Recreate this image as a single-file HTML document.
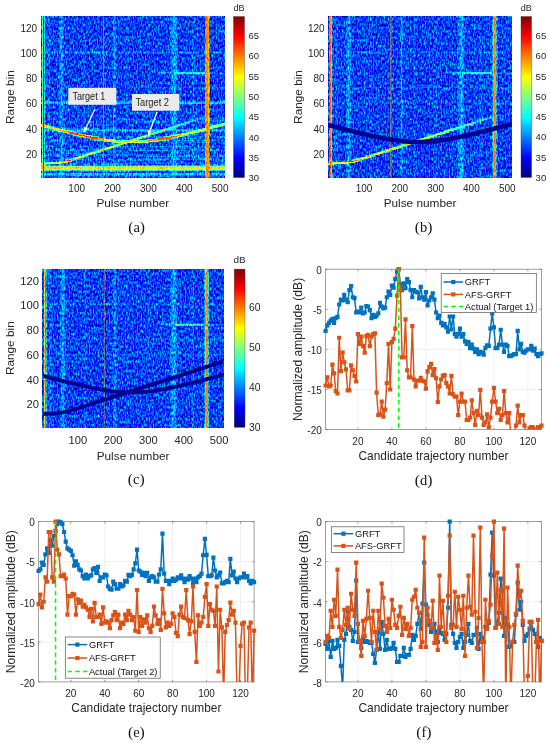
<!DOCTYPE html>
<html><head><meta charset="utf-8"><title>Figure</title>
<style>html,body{margin:0;padding:0;background:#fff}body{width:550px;height:743px;overflow:hidden}svg{display:block}.tk{font-family:"Liberation Sans", Arial, Helvetica, sans-serif;font-size:10px;fill:#262626}.lb{font-family:"Liberation Sans", Arial, Helvetica, sans-serif;font-size:11.9px;fill:#262626}.cb{font-family:"Liberation Sans", Arial, Helvetica, sans-serif;font-size:9.5px;fill:#262626}.lg{font-family:"Liberation Sans", Arial, Helvetica, sans-serif;font-size:9.35px;fill:#111}.cap{font-family:"Liberation Serif", "Times New Roman", serif;font-size:14.5px;fill:#111}.lb.hl{font-size:11.8px}.tk.t3{font-size:11.2px}.cb.c3{font-size:10.3px}.cb.c3.db{font-size:9.9px}.lb.yl{font-size:12.1px}.pr{font-size:15.6px}.cb.db{font-size:9px}</style></head><body>
<svg width="550" height="743" viewBox="0 0 550 743">
<defs><linearGradient id="jet" x1="0" y1="1" x2="0" y2="0"><stop offset="0" stop-color="#000080"/><stop offset="0.125" stop-color="#0000ff"/><stop offset="0.375" stop-color="#00ffff"/><stop offset="0.625" stop-color="#ffff00"/><stop offset="0.875" stop-color="#ff0000"/><stop offset="1" stop-color="#800000"/></linearGradient></defs>
<rect width="550" height="743" fill="#fff"/>
<filter id="hf1" filterUnits="userSpaceOnUse" x="41" y="16.5" width="183.6" height="161.1" color-interpolation-filters="sRGB">
<feTurbulence type="fractalNoise" baseFrequency="0.75 0.33" numOctaves="2" seed="10" result="n"/>
<feColorMatrix in="n" type="matrix" values="0.58 0 0 0 -0.112  0.58 0 0 0 -0.112  0.58 0 0 0 -0.112  0 0 0 0 1" result="ng"/>
<feGaussianBlur in="SourceGraphic" stdDeviation="0.55" result="sb"/>
<feComposite in="sb" in2="ng" operator="arithmetic" k1="-0.8" k2="1" k3="1" k4="0" result="s"/>
<feComponentTransfer in="s" result="cm">
<feFuncR type="table" tableValues="0 0 0 0 0.5 1 1 1 0.5"/><feFuncG type="table" tableValues="0 0 0.5 1 1 1 0.5 0 0"/><feFuncB type="table" tableValues="0.5 1 1 1 0.5 0 0 0 0"/>
</feComponentTransfer><feGaussianBlur in="cm" stdDeviation="0.4 0.45"/></filter>
<g filter="url(#hf1)">
<rect x="38" y="13.5" width="189.6" height="167.1" fill="#000"/>
<rect x="202.56" y="115.51" width="7.14" height="2.1" rx="1" fill="#050505"/>
<rect x="147.4" y="14.5" width="2" height="165.1" fill="#080808"/>
<rect x="125.88" y="14.5" width="2" height="165.1" fill="#0a0a0a"/>
<rect x="82.85" y="14.5" width="2" height="165.1" fill="#0a0a0a"/>
<rect x="39.03" y="112.13" width="187.54" height="1.3" fill="#0a0a0a"/>
<rect x="198.62" y="116.77" width="7.14" height="2.1" rx="1" fill="#0b0b0b"/>
<rect x="203.76" y="115.86" width="4.74" height="1.4" rx="0.7" fill="#0d0d0d"/>
<rect x="191.97" y="14.5" width="2.5" height="165.1" fill="#0d0d0d"/>
<rect x="47.21" y="14.5" width="3" height="165.1" fill="#0d0d0d"/>
<rect x="39.03" y="86.86" width="187.54" height="1.5" fill="#0d0d0d"/>
<rect x="39.03" y="120.94" width="187.54" height="1.3" fill="#0d0d0d"/>
<rect x="41" y="135.39" width="55.7" height="1.2" fill="#0d0d0d"/>
<rect x="132.28" y="154.77" width="14.77" height="1.2" fill="#0e0e0e"/>
<rect x="208.76" y="136.28" width="15.84" height="1.2" fill="#0e0e0e"/>
<rect x="145.16" y="121.72" width="56.34" height="1.2" fill="#0f0f0f"/>
<rect x="55.67" y="131.89" width="51.5" height="1.2" fill="#0f0f0f"/>
<rect x="39.03" y="146.11" width="187.54" height="1.3" fill="#0f0f0f"/>
<rect x="39.03" y="136.05" width="187.54" height="1.3" fill="#0f0f0f"/>
<rect x="58.93" y="157.6" width="17.99" height="1.2" fill="#0f0f0f"/>
<rect x="81.12" y="124.56" width="31.18" height="1.2" fill="#101010"/>
<rect x="124.05" y="119.24" width="33.27" height="1.2" fill="#111111"/>
<rect x="194.85" y="118.03" width="6.97" height="2.1" rx="1" fill="#111111"/>
<rect x="205.06" y="72.51" width="19.36" height="1.5" fill="#121212"/>
<rect x="39.03" y="162.48" width="187.54" height="1.3" fill="#121212"/>
<rect x="39.03" y="154.3" width="187.54" height="1.3" fill="#121212"/>
<rect x="159.89" y="147.79" width="36.68" height="1.2" fill="#121212"/>
<rect x="150.46" y="175.55" width="30.1" height="1.2" fill="#121212"/>
<rect x="195.5" y="156.27" width="29.1" height="1.2" fill="#121212"/>
<rect x="141.14" y="120.78" width="37.62" height="1.2" fill="#131313"/>
<rect x="198.76" y="122.5" width="25.84" height="1.2" fill="#131313"/>
<rect x="177.59" y="141.73" width="35.59" height="1.2" fill="#141414"/>
<rect x="58.96" y="14.5" width="4.6" height="165.1" fill="#141414"/>
<rect x="112.83" y="14.5" width="3" height="165.1" fill="#141414"/>
<rect x="170.61" y="14.5" width="6.5" height="165.1" fill="#141414"/>
<rect x="39.03" y="51.47" width="187.54" height="1.8" fill="#141414"/>
<rect x="39.03" y="139.82" width="187.54" height="1.3" fill="#141414"/>
<rect x="170.59" y="139.64" width="19.31" height="1.2" fill="#151515"/>
<rect x="180.96" y="167.19" width="28.09" height="1.2" fill="#151515"/>
<rect x="182.34" y="118.52" width="42.26" height="1.2" fill="#151515"/>
<rect x="190.91" y="119.28" width="7.14" height="2.1" rx="1" fill="#151515"/>
<rect x="195.15" y="133.37" width="15.7" height="1.2" fill="#151515"/>
<rect x="179.48" y="166.23" width="45.12" height="1.2" fill="#151515"/>
<rect x="114.4" y="128.87" width="29.07" height="1.2" fill="#151515"/>
<rect x="194.01" y="172.55" width="15.87" height="1.2" fill="#161616"/>
<rect x="201.41" y="119.84" width="23.19" height="1.2" fill="#161616"/>
<rect x="39.03" y="158.7" width="187.54" height="1.3" fill="#171717"/>
<rect x="39.03" y="149.89" width="187.54" height="1.3" fill="#171717"/>
<rect x="71.57" y="148.88" width="39.69" height="1.2" fill="#171717"/>
<rect x="199.4" y="158.91" width="25.2" height="1.2" fill="#171717"/>
<rect x="41" y="167.4" width="25.78" height="1.2" fill="#181818"/>
<rect x="126.51" y="175.08" width="26.03" height="1.2" fill="#191919"/>
<rect x="202.31" y="159.17" width="22.29" height="1.2" fill="#191919"/>
<rect x="186.96" y="120.54" width="7.14" height="2.1" rx="1" fill="#191919"/>
<rect x="180.63" y="155.7" width="43.97" height="1.2" fill="#191919"/>
<rect x="115.3" y="159.66" width="50.23" height="1.2" fill="#191919"/>
<rect x="170.23" y="155.05" width="50.47" height="1.2" fill="#191919"/>
<rect x="165.4" y="137.72" width="31.29" height="1.2" fill="#191919"/>
<rect x="168.32" y="145.69" width="19.38" height="1.2" fill="#1a1a1a"/>
<rect x="201.16" y="165.38" width="23.44" height="1.2" fill="#1a1a1a"/>
<rect x="180.99" y="132.8" width="15.19" height="1.2" fill="#1b1b1b"/>
<rect x="175.83" y="149.23" width="44.53" height="1.2" fill="#1b1b1b"/>
<rect x="144.27" y="155.82" width="48.74" height="1.2" fill="#1c1c1c"/>
<rect x="113.63" y="14.5" width="1.4" height="165.1" fill="#1c1c1c"/>
<rect x="199.82" y="117.12" width="4.74" height="1.4" rx="0.7" fill="#1c1c1c"/>
<rect x="76.28" y="170.64" width="50.8" height="1.2" fill="#1c1c1c"/>
<rect x="49.65" y="140.38" width="14.43" height="1.2" fill="#1c1c1c"/>
<rect x="65.88" y="163.75" width="60.14" height="1.2" fill="#1c1c1c"/>
<rect x="183.02" y="121.8" width="7.14" height="2.1" rx="1" fill="#1d1d1d"/>
<rect x="66.11" y="174.99" width="27.37" height="1.2" fill="#1d1d1d"/>
<rect x="88.79" y="170.52" width="42.82" height="1.2" fill="#1d1d1d"/>
<rect x="162.14" y="140.07" width="51.41" height="1.2" fill="#1e1e1e"/>
<rect x="183.7" y="130.09" width="16.05" height="1.2" fill="#1e1e1e"/>
<rect x="50.36" y="127.73" width="48.45" height="1.2" fill="#1e1e1e"/>
<rect x="198.57" y="164.01" width="26.03" height="1.2" fill="#1e1e1e"/>
<rect x="53.27" y="152.62" width="31.92" height="1.2" fill="#1e1e1e"/>
<rect x="60.62" y="14.5" width="2" height="165.1" fill="#1f1f1f"/>
<rect x="179.25" y="123.06" width="6.97" height="2.1" rx="1" fill="#202020"/>
<rect x="172.62" y="14.5" width="3.2" height="165.1" fill="#212121"/>
<rect x="175.31" y="124.32" width="7.14" height="2.1" rx="1" fill="#232323"/>
<rect x="171.36" y="125.58" width="7.14" height="2.1" rx="1" fill="#252525"/>
<rect x="158.44" y="71.68" width="16.85" height="1.9" fill="#262626"/>
<rect x="167.42" y="126.84" width="7.14" height="2.1" rx="1" fill="#282828"/>
<rect x="163.65" y="128.09" width="6.97" height="2.1" rx="1" fill="#2a2a2a"/>
<rect x="196.05" y="118.38" width="4.57" height="1.4" rx="0.7" fill="#2b2b2b"/>
<rect x="39.03" y="101.41" width="187.54" height="2.6" fill="#2b2b2b"/>
<rect x="39.03" y="129.3" width="187.54" height="2.2" fill="#2b2b2b"/>
<rect x="39.03" y="173" width="187.54" height="2.4" fill="#2b2b2b"/>
<rect x="159.71" y="129.35" width="7.14" height="2.1" rx="1" fill="#2c2c2c"/>
<rect x="220.49" y="122.66" width="5.71" height="2.9" rx="1" fill="#2d2d2d"/>
<rect x="155.76" y="130.61" width="7.14" height="2.1" rx="1" fill="#2d2d2d"/>
<rect x="215.83" y="123.92" width="7.86" height="2.9" rx="1" fill="#2e2e2e"/>
<rect x="210.99" y="125.18" width="8.04" height="2.9" rx="1" fill="#2e2e2e"/>
<rect x="151.82" y="131.87" width="7.14" height="2.1" rx="1" fill="#2f2f2f"/>
<rect x="206.33" y="126.44" width="7.86" height="2.9" rx="1" fill="#2f2f2f"/>
<rect x="201.48" y="127.69" width="8.04" height="2.9" rx="1" fill="#303030"/>
<rect x="148.05" y="133.13" width="6.97" height="2.1" rx="1" fill="#303030"/>
<rect x="196.46" y="128.95" width="8.22" height="2.9" rx="1" fill="#313131"/>
<rect x="144.11" y="134.39" width="7.14" height="2.1" rx="1" fill="#323232"/>
<rect x="191.44" y="130.21" width="8.22" height="2.9" rx="1" fill="#323232"/>
<rect x="39.4" y="123.92" width="6.61" height="2.9" rx="1" fill="#323232"/>
<rect x="186.24" y="131.47" width="8.4" height="2.9" rx="1" fill="#333333"/>
<rect x="140.16" y="135.65" width="7.14" height="2.1" rx="1" fill="#333333"/>
<rect x="180.87" y="132.73" width="8.58" height="2.9" rx="1" fill="#333333"/>
<rect x="42.81" y="125.18" width="8.04" height="2.9" rx="1" fill="#343434"/>
<rect x="192.11" y="119.63" width="4.74" height="1.4" rx="0.7" fill="#353535"/>
<rect x="136.22" y="136.9" width="7.14" height="2.1" rx="1" fill="#353535"/>
<rect x="132.46" y="138.16" width="6.97" height="2.1" rx="1" fill="#363636"/>
<rect x="47.65" y="126.44" width="7.86" height="2.9" rx="1" fill="#363636"/>
<rect x="128.51" y="139.42" width="7.14" height="2.1" rx="1" fill="#373737"/>
<rect x="112.19" y="140.28" width="37.45" height="2.9" rx="1" fill="#383838"/>
<rect x="124.57" y="140.68" width="7.14" height="2.1" rx="1" fill="#383838"/>
<rect x="120.62" y="141.94" width="7.14" height="2.1" rx="1" fill="#393939"/>
<rect x="116.86" y="143.2" width="6.97" height="2.1" rx="1" fill="#393939"/>
<rect x="39.4" y="163.33" width="7.86" height="2.1" rx="1" fill="#393939"/>
<rect x="112.91" y="144.46" width="7.14" height="2.1" rx="1" fill="#393939"/>
<rect x="52.31" y="127.69" width="8.04" height="2.9" rx="1" fill="#393939"/>
<rect x="108.97" y="145.71" width="7.14" height="2.1" rx="1" fill="#3a3a3a"/>
<rect x="105.2" y="146.97" width="6.97" height="2.1" rx="1" fill="#3a3a3a"/>
<rect x="101.26" y="148.23" width="7.14" height="2.1" rx="1" fill="#3a3a3a"/>
<rect x="97.31" y="149.49" width="7.14" height="2.1" rx="1" fill="#3a3a3a"/>
<rect x="93.37" y="150.75" width="7.14" height="2.1" rx="1" fill="#3b3b3b"/>
<rect x="102.87" y="139.02" width="12.52" height="2.9" rx="1" fill="#3b3b3b"/>
<rect x="89.6" y="152.01" width="6.97" height="2.1" rx="1" fill="#3b3b3b"/>
<rect x="85.66" y="153.27" width="7.14" height="2.1" rx="1" fill="#3b3b3b"/>
<rect x="81.71" y="154.52" width="7.14" height="2.1" rx="1" fill="#3c3c3c"/>
<rect x="77.77" y="155.78" width="7.14" height="2.1" rx="1" fill="#3c3c3c"/>
<rect x="73.65" y="157.04" width="7.32" height="2.1" rx="1" fill="#3c3c3c"/>
<rect x="44.06" y="162.08" width="18.08" height="2.1" rx="1" fill="#3d3d3d"/>
<rect x="57.15" y="128.95" width="8.22" height="2.9" rx="1" fill="#3e3e3e"/>
<rect x="188.16" y="120.89" width="4.74" height="1.4" rx="0.7" fill="#3f3f3f"/>
<rect x="175.31" y="133.99" width="8.76" height="2.9" rx="1" fill="#3f3f3f"/>
<rect x="69.52" y="158.3" width="7.32" height="2.1" rx="1" fill="#3f3f3f"/>
<rect x="95.7" y="137.76" width="10.37" height="2.9" rx="1" fill="#414141"/>
<rect x="42.93" y="14.5" width="1.8" height="165.1" fill="#424242"/>
<rect x="62.17" y="130.21" width="8.22" height="2.9" rx="1" fill="#444444"/>
<rect x="146.44" y="139.02" width="12.52" height="2.9" rx="1" fill="#454545"/>
<rect x="175.29" y="72.14" width="29.76" height="2" fill="#454545"/>
<rect x="184.22" y="122.15" width="4.74" height="1.4" rx="0.7" fill="#494949"/>
<rect x="155.76" y="137.76" width="10.37" height="2.9" rx="1" fill="#4a4a4a"/>
<rect x="162.94" y="136.5" width="9.65" height="2.9" rx="1" fill="#4a4a4a"/>
<rect x="169.39" y="135.25" width="9.12" height="2.9" rx="1" fill="#4a4a4a"/>
<rect x="67.19" y="131.47" width="8.4" height="2.9" rx="1" fill="#4b4b4b"/>
<rect x="89.24" y="136.5" width="9.65" height="2.9" rx="1" fill="#4c4c4c"/>
<rect x="72.39" y="132.73" width="8.58" height="2.9" rx="1" fill="#4c4c4c"/>
<rect x="77.77" y="133.99" width="8.76" height="2.9" rx="1" fill="#4c4c4c"/>
<rect x="83.33" y="135.25" width="9.12" height="2.9" rx="1" fill="#4c4c4c"/>
<rect x="39.03" y="165.56" width="187.54" height="5.2" fill="#4c4c4c"/>
<rect x="58.94" y="160.82" width="9.12" height="2.1" rx="1" fill="#515151"/>
<rect x="64.86" y="159.56" width="7.86" height="2.1" rx="1" fill="#515151"/>
<rect x="180.45" y="123.41" width="4.57" height="1.4" rx="0.7" fill="#515151"/>
<rect x="205.52" y="14.5" width="3.8" height="165.1" fill="#575757"/>
<rect x="176.51" y="124.67" width="4.74" height="1.4" rx="0.7" fill="#575757"/>
<rect x="172.56" y="125.93" width="4.74" height="1.4" rx="0.7" fill="#5d5d5d"/>
<rect x="168.62" y="127.19" width="4.74" height="1.4" rx="0.7" fill="#636363"/>
<rect x="164.85" y="128.44" width="4.57" height="1.4" rx="0.7" fill="#696969"/>
<rect x="160.91" y="129.7" width="4.74" height="1.4" rx="0.7" fill="#6d6d6d"/>
<rect x="221.69" y="123.01" width="3.31" height="2.2" rx="0.7" fill="#717171"/>
<rect x="156.96" y="130.96" width="4.74" height="1.4" rx="0.7" fill="#717171"/>
<rect x="217.03" y="124.27" width="5.46" height="2.2" rx="0.7" fill="#727272"/>
<rect x="212.19" y="125.53" width="5.64" height="2.2" rx="0.7" fill="#747474"/>
<rect x="153.02" y="132.22" width="4.74" height="1.4" rx="0.7" fill="#757575"/>
<rect x="207.53" y="126.79" width="5.46" height="2.2" rx="0.7" fill="#767676"/>
<rect x="202.68" y="128.04" width="5.64" height="2.2" rx="0.7" fill="#787878"/>
<rect x="149.25" y="133.48" width="4.57" height="1.4" rx="0.7" fill="#787878"/>
<rect x="197.66" y="129.3" width="5.82" height="2.2" rx="0.7" fill="#7a7a7a"/>
<rect x="145.31" y="134.74" width="4.74" height="1.4" rx="0.7" fill="#7c7c7c"/>
<rect x="192.64" y="130.56" width="5.82" height="2.2" rx="0.7" fill="#7c7c7c"/>
<rect x="40.6" y="124.27" width="4.21" height="2.2" rx="0.7" fill="#7e7e7e"/>
<rect x="187.44" y="131.82" width="6" height="2.2" rx="0.7" fill="#7e7e7e"/>
<rect x="141.36" y="136" width="4.74" height="1.4" rx="0.7" fill="#808080"/>
<rect x="182.07" y="133.08" width="6.18" height="2.2" rx="0.7" fill="#818181"/>
<rect x="44.01" y="125.53" width="5.64" height="2.2" rx="0.7" fill="#828282"/>
<rect x="137.42" y="137.25" width="4.74" height="1.4" rx="0.7" fill="#838383"/>
<rect x="133.66" y="138.51" width="4.57" height="1.4" rx="0.7" fill="#878787"/>
<rect x="48.85" y="126.79" width="5.46" height="2.2" rx="0.7" fill="#888888"/>
<rect x="129.71" y="139.77" width="4.74" height="1.4" rx="0.7" fill="#8b8b8b"/>
<rect x="39.03" y="166.66" width="187.54" height="3" fill="#8c8c8c"/>
<rect x="113.39" y="140.63" width="35.05" height="2.2" rx="0.7" fill="#8c8c8c"/>
<rect x="125.77" y="141.03" width="4.74" height="1.4" rx="0.7" fill="#8d8d8d"/>
<rect x="121.82" y="142.29" width="4.74" height="1.4" rx="0.7" fill="#8d8d8d"/>
<rect x="118.06" y="143.55" width="4.57" height="1.4" rx="0.7" fill="#8e8e8e"/>
<rect x="40.6" y="163.68" width="5.46" height="1.4" rx="0.7" fill="#8f8f8f"/>
<rect x="114.11" y="144.81" width="4.74" height="1.4" rx="0.7" fill="#8f8f8f"/>
<rect x="53.51" y="128.04" width="5.64" height="2.2" rx="0.7" fill="#8f8f8f"/>
<rect x="110.17" y="146.06" width="4.74" height="1.4" rx="0.7" fill="#909090"/>
<rect x="106.4" y="147.32" width="4.57" height="1.4" rx="0.7" fill="#919191"/>
<rect x="102.46" y="148.58" width="4.74" height="1.4" rx="0.7" fill="#919191"/>
<rect x="98.51" y="149.84" width="4.74" height="1.4" rx="0.7" fill="#929292"/>
<rect x="94.57" y="151.1" width="4.74" height="1.4" rx="0.7" fill="#939393"/>
<rect x="104.07" y="139.37" width="10.12" height="2.2" rx="0.7" fill="#939393"/>
<rect x="90.8" y="152.36" width="4.57" height="1.4" rx="0.7" fill="#949494"/>
<rect x="86.86" y="153.62" width="4.74" height="1.4" rx="0.7" fill="#949494"/>
<rect x="82.91" y="154.87" width="4.74" height="1.4" rx="0.7" fill="#959595"/>
<rect x="78.97" y="156.13" width="4.74" height="1.4" rx="0.7" fill="#969696"/>
<rect x="74.85" y="157.39" width="4.92" height="1.4" rx="0.7" fill="#979797"/>
<rect x="45.26" y="162.43" width="15.68" height="1.4" rx="0.7" fill="#999999"/>
<rect x="58.35" y="129.3" width="5.82" height="2.2" rx="0.7" fill="#9c9c9c"/>
<rect x="176.51" y="134.34" width="6.36" height="2.2" rx="0.7" fill="#9e9e9e"/>
<rect x="70.72" y="158.65" width="4.92" height="1.4" rx="0.7" fill="#9e9e9e"/>
<rect x="96.9" y="138.11" width="7.97" height="2.2" rx="0.7" fill="#a3a3a3"/>
<rect x="205.94" y="14.5" width="2.9" height="165.1" fill="#a8a8a8"/>
<rect x="63.37" y="130.56" width="5.82" height="2.2" rx="0.7" fill="#aaaaaa"/>
<rect x="147.64" y="139.37" width="10.12" height="2.2" rx="0.7" fill="#acacac"/>
<rect x="156.96" y="138.11" width="7.97" height="2.2" rx="0.7" fill="#b9b9b9"/>
<rect x="164.14" y="136.85" width="7.25" height="2.2" rx="0.7" fill="#b9b9b9"/>
<rect x="170.59" y="135.6" width="6.72" height="2.2" rx="0.7" fill="#b9b9b9"/>
<rect x="68.39" y="131.82" width="6" height="2.2" rx="0.7" fill="#bbbbbb"/>
<rect x="90.44" y="136.85" width="7.25" height="2.2" rx="0.7" fill="#bebebe"/>
<rect x="73.59" y="133.08" width="6.18" height="2.2" rx="0.7" fill="#bfbfbf"/>
<rect x="78.97" y="134.34" width="6.36" height="2.2" rx="0.7" fill="#bfbfbf"/>
<rect x="84.53" y="135.6" width="6.72" height="2.2" rx="0.7" fill="#bfbfbf"/>
<rect x="60.14" y="161.17" width="6.72" height="1.4" rx="0.7" fill="#cacaca"/>
<rect x="66.06" y="159.91" width="5.46" height="1.4" rx="0.7" fill="#cacaca"/>
<rect x="42.63" y="14.5" width="1.4" height="165.1" fill="#dbdbdb"/>
</g>
<line x1="103.57" y1="16.5" x2="103.57" y2="177.6" stroke="#ee8420" stroke-width="1" stroke-opacity="0.9"/>
<clipPath id="cp1"><rect x="41" y="16.5" width="183.6" height="161.1"/></clipPath>
<rect x="68.3" y="87.9" width="48.1" height="16.9" fill="#ebebeb"/>
<text x="72.5" y="100.1" font-family='"Liberation Sans", Arial, Helvetica, sans-serif' font-size="10.4" fill="#1a1a1a" textLength="32.7" lengthAdjust="spacingAndGlyphs">Target 1</text>
<rect x="132" y="94" width="47.4" height="16.7" fill="#ebebeb"/>
<text x="135.4" y="106.3" font-family='"Liberation Sans", Arial, Helvetica, sans-serif' font-size="10.4" fill="#1a1a1a" textLength="33.6" lengthAdjust="spacingAndGlyphs">Target 2</text>
<line x1="95" y1="109" x2="85.88" y2="128.04" stroke="#fff" stroke-width="1.3"/>
<polygon points="83.5,133 83.89,127.09 87.86,128.99" fill="#fff"/>
<line x1="157" y1="112" x2="149.93" y2="130.85" stroke="#fff" stroke-width="1.3"/>
<polygon points="148,136 147.87,130.08 151.99,131.62" fill="#fff"/>
<text x="76.68" y="191.9" text-anchor="middle" class="tk">100</text>
<text x="112.54" y="191.9" text-anchor="middle" class="tk">200</text>
<text x="148.4" y="191.9" text-anchor="middle" class="tk">300</text>
<text x="184.26" y="191.9" text-anchor="middle" class="tk">400</text>
<text x="220.12" y="191.9" text-anchor="middle" class="tk">500</text>
<text x="37.2" y="157.76" text-anchor="end" class="tk">20</text>
<text x="37.2" y="132.59" text-anchor="end" class="tk">40</text>
<text x="37.2" y="107.41" text-anchor="end" class="tk">60</text>
<text x="37.2" y="82.24" text-anchor="end" class="tk">80</text>
<text x="37.2" y="57.07" text-anchor="end" class="tk">100</text>
<text x="37.2" y="31.9" text-anchor="end" class="tk">120</text>
<text x="132.8" y="207.3" text-anchor="middle" class="lb hl">Pulse number</text>
<text transform="translate(13.8,97.05) rotate(-90)" text-anchor="middle" class="lb hl">Range bin</text>
<rect x="233.5" y="16.5" width="11" height="161.1" fill="url(#jet)" stroke="#444" stroke-width="0.4"/>
<text x="248.5" y="181.1" class="cb">30</text>
<text x="248.5" y="160.81" class="cb">35</text>
<text x="248.5" y="140.52" class="cb">40</text>
<text x="248.5" y="120.23" class="cb">45</text>
<text x="248.5" y="99.94" class="cb">50</text>
<text x="248.5" y="79.65" class="cb">55</text>
<text x="248.5" y="59.36" class="cb">60</text>
<text x="248.5" y="39.07" class="cb">65</text>
<text x="239" y="10.8" text-anchor="middle" class="cb db">dB</text>
<text x="136.6" y="232.3" text-anchor="middle" class="cap"><tspan class="pr">(</tspan>a<tspan class="pr">)</tspan></text>
<filter id="hf2" filterUnits="userSpaceOnUse" x="328.4" y="16.5" width="183.3" height="161" color-interpolation-filters="sRGB">
<feTurbulence type="fractalNoise" baseFrequency="0.75 0.33" numOctaves="2" seed="17" result="n"/>
<feColorMatrix in="n" type="matrix" values="0.58 0 0 0 -0.112  0.58 0 0 0 -0.112  0.58 0 0 0 -0.112  0 0 0 0 1" result="ng"/>
<feGaussianBlur in="SourceGraphic" stdDeviation="0.55" result="sb"/>
<feComposite in="sb" in2="ng" operator="arithmetic" k1="-0.8" k2="1" k3="1" k4="0" result="s"/>
<feComponentTransfer in="s" result="cm">
<feFuncR type="table" tableValues="0 0 0 0 0.5 1 1 1 0.5"/><feFuncG type="table" tableValues="0 0 0.5 1 1 1 0.5 0 0"/><feFuncB type="table" tableValues="0.5 1 1 1 0.5 0 0 0 0"/>
</feComponentTransfer><feGaussianBlur in="cm" stdDeviation="0.4 0.45"/></filter>
<g filter="url(#hf2)">
<rect x="325.4" y="13.5" width="189.3" height="167" fill="#000"/>
<rect x="493.63" y="114.09" width="6.96" height="2.3" rx="1" fill="#050505"/>
<rect x="434.62" y="14.5" width="2" height="165" fill="#080808"/>
<rect x="413.14" y="14.5" width="2" height="165" fill="#0a0a0a"/>
<rect x="370.18" y="14.5" width="2" height="165" fill="#0a0a0a"/>
<rect x="326.43" y="101.36" width="187.24" height="2.6" fill="#0a0a0a"/>
<rect x="489.69" y="115.35" width="7.14" height="2.3" rx="1" fill="#0b0b0b"/>
<rect x="494.83" y="114.44" width="4.56" height="1.6" rx="0.7" fill="#0c0c0c"/>
<rect x="479.12" y="14.5" width="2.5" height="165" fill="#0d0d0d"/>
<rect x="334.6" y="14.5" width="3" height="165" fill="#0d0d0d"/>
<rect x="326.43" y="51.45" width="187.24" height="1.8" fill="#0d0d0d"/>
<rect x="326.43" y="86.82" width="187.24" height="1.5" fill="#0d0d0d"/>
<rect x="492.19" y="72.48" width="19.33" height="1.5" fill="#121212"/>
<rect x="485.76" y="116.6" width="7.14" height="2.3" rx="1" fill="#121212"/>
<rect x="346.33" y="14.5" width="4.6" height="165" fill="#141414"/>
<rect x="400.11" y="14.5" width="3" height="165" fill="#141414"/>
<rect x="457.79" y="14.5" width="6.5" height="165" fill="#141414"/>
<rect x="482" y="117.86" width="6.96" height="2.3" rx="1" fill="#151515"/>
<rect x="478.06" y="119.12" width="7.14" height="2.3" rx="1" fill="#181818"/>
<rect x="474.12" y="120.38" width="7.14" height="2.3" rx="1" fill="#1b1b1b"/>
<rect x="400.91" y="14.5" width="1.4" height="165" fill="#1c1c1c"/>
<rect x="490.89" y="115.7" width="4.74" height="1.6" rx="0.7" fill="#1c1c1c"/>
<rect x="470.18" y="121.64" width="7.14" height="2.3" rx="1" fill="#1e1e1e"/>
<rect x="347.99" y="14.5" width="2" height="165" fill="#1f1f1f"/>
<rect x="466.42" y="122.89" width="6.96" height="2.3" rx="1" fill="#202020"/>
<rect x="459.8" y="14.5" width="3.2" height="165" fill="#212121"/>
<rect x="462.48" y="124.15" width="7.14" height="2.3" rx="1" fill="#232323"/>
<rect x="458.55" y="125.41" width="7.14" height="2.3" rx="1" fill="#252525"/>
<rect x="445.65" y="71.65" width="16.83" height="1.9" fill="#262626"/>
<rect x="454.61" y="126.67" width="7.14" height="2.3" rx="1" fill="#282828"/>
<rect x="450.85" y="127.92" width="6.96" height="2.3" rx="1" fill="#2a2a2a"/>
<rect x="446.91" y="129.18" width="7.14" height="2.3" rx="1" fill="#2d2d2d"/>
<rect x="486.96" y="116.95" width="4.74" height="1.6" rx="0.7" fill="#2d2d2d"/>
<rect x="442.97" y="130.44" width="7.14" height="2.3" rx="1" fill="#2f2f2f"/>
<rect x="439.04" y="131.7" width="7.14" height="2.3" rx="1" fill="#303030"/>
<rect x="435.28" y="132.96" width="6.96" height="2.3" rx="1" fill="#313131"/>
<rect x="431.34" y="134.21" width="7.14" height="2.3" rx="1" fill="#323232"/>
<rect x="427.4" y="135.47" width="7.14" height="2.3" rx="1" fill="#333333"/>
<rect x="423.46" y="136.73" width="7.14" height="2.3" rx="1" fill="#343434"/>
<rect x="483.2" y="118.21" width="4.56" height="1.6" rx="0.7" fill="#343434"/>
<rect x="419.7" y="137.99" width="6.96" height="2.3" rx="1" fill="#353535"/>
<rect x="415.76" y="139.24" width="7.14" height="2.3" rx="1" fill="#353535"/>
<rect x="411.83" y="140.5" width="7.14" height="2.3" rx="1" fill="#363636"/>
<rect x="407.89" y="141.76" width="7.14" height="2.3" rx="1" fill="#373737"/>
<rect x="404.13" y="143.02" width="6.96" height="2.3" rx="1" fill="#373737"/>
<rect x="400.19" y="144.28" width="7.14" height="2.3" rx="1" fill="#383838"/>
<rect x="396.25" y="145.53" width="7.14" height="2.3" rx="1" fill="#383838"/>
<rect x="392.49" y="146.79" width="6.96" height="2.3" rx="1" fill="#393939"/>
<rect x="388.56" y="148.05" width="7.14" height="2.3" rx="1" fill="#393939"/>
<rect x="384.62" y="149.31" width="7.14" height="2.3" rx="1" fill="#3a3a3a"/>
<rect x="380.68" y="150.56" width="7.14" height="2.3" rx="1" fill="#3a3a3a"/>
<rect x="376.92" y="151.82" width="6.96" height="2.3" rx="1" fill="#3b3b3b"/>
<rect x="326.8" y="163.14" width="7.85" height="2.3" rx="1" fill="#3b3b3b"/>
<rect x="372.98" y="153.08" width="7.14" height="2.3" rx="1" fill="#3b3b3b"/>
<rect x="479.26" y="119.47" width="4.74" height="1.6" rx="0.7" fill="#3b3b3b"/>
<rect x="369.04" y="154.34" width="7.14" height="2.3" rx="1" fill="#3c3c3c"/>
<rect x="365.11" y="155.6" width="7.14" height="2.3" rx="1" fill="#3c3c3c"/>
<rect x="360.99" y="156.85" width="7.32" height="2.3" rx="1" fill="#3d3d3d"/>
<rect x="356.87" y="158.11" width="7.32" height="2.3" rx="1" fill="#3d3d3d"/>
<rect x="331.45" y="161.89" width="18.06" height="2.3" rx="1" fill="#3e3e3e"/>
<rect x="329.61" y="14.5" width="2.6" height="165" fill="#424242"/>
<rect x="475.32" y="120.73" width="4.74" height="1.6" rx="0.7" fill="#434343"/>
<rect x="462.47" y="72.1" width="29.71" height="2" fill="#454545"/>
<rect x="352.22" y="159.37" width="7.85" height="2.3" rx="1" fill="#464646"/>
<rect x="471.38" y="121.99" width="4.74" height="1.6" rx="0.7" fill="#4a4a4a"/>
<rect x="346.31" y="160.63" width="9.11" height="2.3" rx="1" fill="#4f4f4f"/>
<rect x="467.62" y="123.24" width="4.56" height="1.6" rx="0.7" fill="#515151"/>
<rect x="492.65" y="14.5" width="3.8" height="165" fill="#575757"/>
<rect x="463.68" y="124.5" width="4.74" height="1.6" rx="0.7" fill="#575757"/>
<rect x="459.75" y="125.76" width="4.74" height="1.6" rx="0.7" fill="#5d5d5d"/>
<rect x="455.81" y="127.02" width="4.74" height="1.6" rx="0.7" fill="#636363"/>
<rect x="452.05" y="128.27" width="4.56" height="1.6" rx="0.7" fill="#696969"/>
<rect x="448.11" y="129.53" width="4.74" height="1.6" rx="0.7" fill="#6f6f6f"/>
<rect x="444.17" y="130.79" width="4.74" height="1.6" rx="0.7" fill="#767676"/>
<rect x="440.24" y="132.05" width="4.74" height="1.6" rx="0.7" fill="#787878"/>
<rect x="436.48" y="133.31" width="4.56" height="1.6" rx="0.7" fill="#7a7a7a"/>
<rect x="432.54" y="134.56" width="4.74" height="1.6" rx="0.7" fill="#7d7d7d"/>
<rect x="428.6" y="135.82" width="4.74" height="1.6" rx="0.7" fill="#7f7f7f"/>
<rect x="424.66" y="137.08" width="4.74" height="1.6" rx="0.7" fill="#818181"/>
<rect x="420.9" y="138.34" width="4.56" height="1.6" rx="0.7" fill="#838383"/>
<rect x="416.96" y="139.59" width="4.74" height="1.6" rx="0.7" fill="#868686"/>
<rect x="413.03" y="140.85" width="4.74" height="1.6" rx="0.7" fill="#878787"/>
<rect x="409.09" y="142.11" width="4.74" height="1.6" rx="0.7" fill="#898989"/>
<rect x="405.33" y="143.37" width="4.56" height="1.6" rx="0.7" fill="#8a8a8a"/>
<rect x="401.39" y="144.63" width="4.74" height="1.6" rx="0.7" fill="#8b8b8b"/>
<rect x="397.45" y="145.88" width="4.74" height="1.6" rx="0.7" fill="#8d8d8d"/>
<rect x="393.69" y="147.14" width="4.56" height="1.6" rx="0.7" fill="#8e8e8e"/>
<rect x="389.76" y="148.4" width="4.74" height="1.6" rx="0.7" fill="#8f8f8f"/>
<rect x="385.82" y="149.66" width="4.74" height="1.6" rx="0.7" fill="#909090"/>
<rect x="381.88" y="150.91" width="4.74" height="1.6" rx="0.7" fill="#929292"/>
<rect x="378.12" y="152.17" width="4.56" height="1.6" rx="0.7" fill="#939393"/>
<rect x="328" y="163.49" width="5.45" height="1.6" rx="0.7" fill="#949494"/>
<rect x="374.18" y="153.43" width="4.74" height="1.6" rx="0.7" fill="#949494"/>
<rect x="370.24" y="154.69" width="4.74" height="1.6" rx="0.7" fill="#969696"/>
<rect x="366.31" y="155.95" width="4.74" height="1.6" rx="0.7" fill="#979797"/>
<rect x="362.19" y="157.2" width="4.92" height="1.6" rx="0.7" fill="#989898"/>
<rect x="358.07" y="158.46" width="4.92" height="1.6" rx="0.7" fill="#9a9a9a"/>
<rect x="332.65" y="162.24" width="15.66" height="1.6" rx="0.7" fill="#9b9b9b"/>
<rect x="493.07" y="14.5" width="2.9" height="165" fill="#a8a8a8"/>
<rect x="353.42" y="159.72" width="5.45" height="1.6" rx="0.7" fill="#aeaeae"/>
<rect x="330.01" y="14.5" width="1.8" height="165" fill="#b2b2b2"/>
<rect x="347.51" y="160.98" width="6.71" height="1.6" rx="0.7" fill="#c4c4c4"/>
</g>
<line x1="390.87" y1="16.5" x2="390.87" y2="177.5" stroke="#ee8420" stroke-width="1" stroke-opacity="0.9"/>
<clipPath id="cp2"><rect x="328.4" y="16.5" width="183.3" height="161"/></clipPath>
<polyline points="326.79,124.58 328.94,125.16 331.09,125.74 333.23,126.32 335.38,126.89 337.53,127.46 339.68,128.03 341.83,128.59 343.97,129.15 346.12,129.71 348.27,130.26 350.42,130.81 352.57,131.35 354.71,131.89 356.86,132.42 359.01,132.94 361.16,133.46 363.31,133.97 365.45,134.48 367.6,134.97 369.75,135.46 371.9,135.94 374.05,136.41 376.19,136.87 378.34,137.31 380.49,137.75 382.64,138.17 384.79,138.57 386.93,138.96 389.08,139.34 391.23,139.69 393.38,140.03 395.53,140.34 397.67,140.63 399.82,140.9 401.97,141.14 404.12,141.36 406.27,141.54 408.41,141.7 410.56,141.83 412.71,141.93 414.86,141.99 417.01,142.03 419.15,142.03 421.3,141.99 423.45,141.93 425.6,141.83 427.75,141.7 429.9,141.54 432.04,141.36 434.19,141.14 436.34,140.9 438.49,140.63 440.64,140.34 442.78,140.03 444.93,139.69 447.08,139.34 449.23,138.96 451.38,138.57 453.52,138.17 455.67,137.75 457.82,137.31 459.97,136.87 462.12,136.41 464.26,135.94 466.41,135.46 468.56,134.97 470.71,134.48 472.86,133.97 475,133.46 477.15,132.94 479.3,132.42 481.45,131.89 483.6,131.35 485.74,130.81 487.89,130.26 490.04,129.71 492.19,129.15 494.34,128.59 496.48,128.03 498.63,127.46 500.78,126.89 502.93,126.32 505.08,125.74 507.22,125.16 509.37,124.58 511.52,124 513.67,123.41" fill="none" stroke="#00008e" stroke-width="4.6" clip-path="url(#cp2)"/>
<text x="364.02" y="191.9" text-anchor="middle" class="tk">100</text>
<text x="399.82" y="191.9" text-anchor="middle" class="tk">200</text>
<text x="435.62" y="191.9" text-anchor="middle" class="tk">300</text>
<text x="471.42" y="191.9" text-anchor="middle" class="tk">400</text>
<text x="507.22" y="191.9" text-anchor="middle" class="tk">500</text>
<text x="324.6" y="157.67" text-anchor="end" class="tk">20</text>
<text x="324.6" y="132.52" text-anchor="end" class="tk">40</text>
<text x="324.6" y="107.36" text-anchor="end" class="tk">60</text>
<text x="324.6" y="82.2" text-anchor="end" class="tk">80</text>
<text x="324.6" y="57.05" text-anchor="end" class="tk">100</text>
<text x="324.6" y="31.89" text-anchor="end" class="tk">120</text>
<text x="420.05" y="207.3" text-anchor="middle" class="lb hl">Pulse number</text>
<text transform="translate(302.2,97) rotate(-90)" text-anchor="middle" class="lb hl">Range bin</text>
<rect x="521" y="16.5" width="10.6" height="161" fill="url(#jet)" stroke="#444" stroke-width="0.4"/>
<text x="535.6" y="181" class="cb">30</text>
<text x="535.6" y="160.72" class="cb">35</text>
<text x="535.6" y="140.45" class="cb">40</text>
<text x="535.6" y="120.17" class="cb">45</text>
<text x="535.6" y="99.89" class="cb">50</text>
<text x="535.6" y="79.61" class="cb">55</text>
<text x="535.6" y="59.34" class="cb">60</text>
<text x="535.6" y="39.06" class="cb">65</text>
<text x="526.3" y="10.8" text-anchor="middle" class="cb db">dB</text>
<text x="423.6" y="232.3" text-anchor="middle" class="cap"><tspan class="pr">(</tspan>b<tspan class="pr">)</tspan></text>
<filter id="hf3" filterUnits="userSpaceOnUse" x="42.7" y="269.1" width="180.8" height="158.2" color-interpolation-filters="sRGB">
<feTurbulence type="fractalNoise" baseFrequency="0.75 0.33" numOctaves="2" seed="24" result="n"/>
<feColorMatrix in="n" type="matrix" values="0.58 0 0 0 -0.112  0.58 0 0 0 -0.112  0.58 0 0 0 -0.112  0 0 0 0 1" result="ng"/>
<feGaussianBlur in="SourceGraphic" stdDeviation="0.55" result="sb"/>
<feComposite in="sb" in2="ng" operator="arithmetic" k1="-0.8" k2="1" k3="1" k4="0" result="s"/>
<feComponentTransfer in="s" result="cm">
<feFuncR type="table" tableValues="0 0 0 0 0.5 1 1 1 0.5"/><feFuncG type="table" tableValues="0 0 0.5 1 1 1 0.5 0 0"/><feFuncB type="table" tableValues="0.5 1 1 1 0.5 0 0 0 0"/>
</feComponentTransfer><feGaussianBlur in="cm" stdDeviation="0.4 0.45"/></filter>
<g filter="url(#hf3)">
<rect x="39.7" y="266.1" width="186.8" height="164.2" fill="#000"/>
<rect x="147.46" y="267.1" width="2" height="162.2" fill="#080808"/>
<rect x="126.27" y="267.1" width="2" height="162.2" fill="#0a0a0a"/>
<rect x="83.9" y="267.1" width="2" height="162.2" fill="#0a0a0a"/>
<rect x="40.76" y="352.46" width="184.68" height="2.6" fill="#0a0a0a"/>
<rect x="191.35" y="267.1" width="2.5" height="162.2" fill="#0d0d0d"/>
<rect x="48.79" y="267.1" width="3" height="162.2" fill="#0d0d0d"/>
<rect x="40.76" y="303.42" width="184.68" height="1.8" fill="#0d0d0d"/>
<rect x="40.76" y="338.18" width="184.68" height="1.5" fill="#0d0d0d"/>
<rect x="204.25" y="324.09" width="19.07" height="1.5" fill="#121212"/>
<rect x="60.35" y="267.1" width="4.6" height="162.2" fill="#141414"/>
<rect x="113.41" y="267.1" width="3" height="162.2" fill="#141414"/>
<rect x="170.28" y="267.1" width="6.5" height="162.2" fill="#141414"/>
<rect x="114.21" y="267.1" width="1.4" height="162.2" fill="#1c1c1c"/>
<rect x="62" y="267.1" width="2" height="162.2" fill="#1f1f1f"/>
<rect x="172.29" y="267.1" width="3.2" height="162.2" fill="#212121"/>
<rect x="158.35" y="323.27" width="16.6" height="1.9" fill="#262626"/>
<rect x="43.87" y="267.1" width="2.6" height="162.2" fill="#424242"/>
<rect x="174.95" y="323.72" width="29.31" height="2" fill="#454545"/>
<rect x="204.69" y="267.1" width="3.8" height="162.2" fill="#575757"/>
<rect x="205.1" y="267.1" width="2.9" height="162.2" fill="#a8a8a8"/>
<rect x="44.27" y="267.1" width="1.8" height="162.2" fill="#b2b2b2"/>
</g>
<line x1="104.32" y1="269.1" x2="104.32" y2="427.3" stroke="#ee8420" stroke-width="1" stroke-opacity="0.6"/>
<clipPath id="cp3"><rect x="42.7" y="269.1" width="180.8" height="158.2"/></clipPath>
<polyline points="41.11,375.3 43.23,375.87 45.35,376.44 47.47,377.01 49.59,377.57 51.7,378.13 53.82,378.69 55.94,379.24 58.06,379.79 60.18,380.34 62.3,380.88 64.42,381.42 66.54,381.95 68.65,382.48 70.77,383 72.89,383.52 75.01,384.03 77.13,384.53 79.25,385.03 81.37,385.51 83.49,385.99 85.6,386.46 87.72,386.93 89.84,387.38 91.96,387.81 94.08,388.24 96.2,388.65 98.32,389.05 100.44,389.43 102.55,389.8 104.67,390.15 106.79,390.48 108.91,390.79 111.03,391.07 113.15,391.34 115.27,391.57 117.39,391.79 119.5,391.97 121.62,392.13 123.74,392.25 125.86,392.35 127.98,392.41 130.1,392.44 132.22,392.44 134.34,392.41 136.45,392.35 138.57,392.25 140.69,392.13 142.81,391.97 144.93,391.79 147.05,391.57 149.17,391.34 151.29,391.07 153.4,390.79 155.52,390.48 157.64,390.15 159.76,389.8 161.88,389.43 164,389.05 166.12,388.65 168.24,388.24 170.35,387.81 172.47,387.38 174.59,386.93 176.71,386.46 178.83,385.99 180.95,385.51 183.07,385.03 185.19,384.53 187.3,384.03 189.42,383.52 191.54,383 193.66,382.48 195.78,381.95 197.9,381.42 200.02,380.88 202.14,380.34 204.25,379.79 206.37,379.24 208.49,378.69 210.61,378.13 212.73,377.57 214.85,377.01 216.97,376.44 219.09,375.87 221.2,375.3 223.32,374.73 225.44,374.15" fill="none" stroke="#00008e" stroke-width="3.9" clip-path="url(#cp3)"/>
<polyline points="41.11,413.79 43.23,413.77 45.35,413.74 47.47,413.7 49.59,413.64 51.7,413.55 53.82,413.43 55.94,413.26 58.06,413.04 60.18,412.76 62.3,412.4 64.42,411.98 66.54,411.5 68.65,410.97 70.77,410.4 72.89,409.79 75.01,409.17 77.13,408.52 79.25,407.86 81.37,407.2 83.49,406.53 85.6,405.85 87.72,405.18 89.84,404.5 91.96,403.82 94.08,403.14 96.2,402.46 98.32,401.77 100.44,401.09 102.55,400.41 104.67,399.73 106.79,399.05 108.91,398.36 111.03,397.68 113.15,397 115.27,396.32 117.39,395.64 119.5,394.95 121.62,394.27 123.74,393.59 125.86,392.91 127.98,392.22 130.1,391.54 132.22,390.86 134.34,390.18 136.45,389.5 138.57,388.81 140.69,388.13 142.81,387.45 144.93,386.77 147.05,386.08 149.17,385.4 151.29,384.72 153.4,384.04 155.52,383.36 157.64,382.67 159.76,381.99 161.88,381.31 164,380.63 166.12,379.94 168.24,379.26 170.35,378.58 172.47,377.9 174.59,377.21 176.71,376.53 178.83,375.85 180.95,375.17 183.07,374.49 185.19,373.8 187.3,373.12 189.42,372.44 191.54,371.76 193.66,371.07 195.78,370.39 197.9,369.71 200.02,369.03 202.14,368.35 204.25,367.66 206.37,366.98 208.49,366.3 210.61,365.62 212.73,364.93 214.85,364.25 216.97,363.57 219.09,362.89 221.2,362.21 223.32,361.52 225.44,360.84" fill="none" stroke="#00008e" stroke-width="3.9" clip-path="url(#cp3)"/>
<text x="77.84" y="443.6" text-anchor="middle" class="tk t3">100</text>
<text x="113.15" y="443.6" text-anchor="middle" class="tk t3">200</text>
<text x="148.46" y="443.6" text-anchor="middle" class="tk t3">300</text>
<text x="183.77" y="443.6" text-anchor="middle" class="tk t3">400</text>
<text x="219.09" y="443.6" text-anchor="middle" class="tk t3">500</text>
<text x="38.9" y="408.3" text-anchor="end" class="tk t3">20</text>
<text x="38.9" y="383.58" text-anchor="end" class="tk t3">40</text>
<text x="38.9" y="358.86" text-anchor="end" class="tk t3">60</text>
<text x="38.9" y="334.14" text-anchor="end" class="tk t3">80</text>
<text x="38.9" y="309.42" text-anchor="end" class="tk t3">100</text>
<text x="38.9" y="284.71" text-anchor="end" class="tk t3">120</text>
<text x="133.1" y="459.6" text-anchor="middle" class="lb hl">Pulse number</text>
<text transform="translate(13.8,348.2) rotate(-90)" text-anchor="middle" class="lb hl">Range bin</text>
<rect x="234.2" y="269.1" width="10.8" height="158.2" fill="url(#jet)" stroke="#444" stroke-width="0.4"/>
<text x="249" y="430.8" class="cb c3">30</text>
<text x="249" y="390.95" class="cb c3">40</text>
<text x="249" y="351.1" class="cb c3">50</text>
<text x="249" y="311.25" class="cb c3">60</text>
<text x="239.6" y="263" text-anchor="middle" class="cb c3 db">dB</text>
<text x="136.2" y="484" text-anchor="middle" class="cap"><tspan class="pr">(</tspan>c<tspan class="pr">)</tspan></text>
<clipPath id="lc4"><rect x="322.6" y="266.2" width="221.9" height="163.4"/></clipPath>
<rect x="325.6" y="269.2" width="215.9" height="160.4" fill="#fff"/>
<line x1="357.9" y1="269.2" x2="357.9" y2="429.6" stroke="#ececec" stroke-width="0.8"/>
<line x1="391.9" y1="269.2" x2="391.9" y2="429.6" stroke="#ececec" stroke-width="0.8"/>
<line x1="425.9" y1="269.2" x2="425.9" y2="429.6" stroke="#ececec" stroke-width="0.8"/>
<line x1="459.9" y1="269.2" x2="459.9" y2="429.6" stroke="#ececec" stroke-width="0.8"/>
<line x1="493.9" y1="269.2" x2="493.9" y2="429.6" stroke="#ececec" stroke-width="0.8"/>
<line x1="527.9" y1="269.2" x2="527.9" y2="429.6" stroke="#ececec" stroke-width="0.8"/>
<line x1="325.6" y1="309.3" x2="541.5" y2="309.3" stroke="#ececec" stroke-width="0.8"/>
<line x1="325.6" y1="349.4" x2="541.5" y2="349.4" stroke="#ececec" stroke-width="0.8"/>
<line x1="325.6" y1="389.5" x2="541.5" y2="389.5" stroke="#ececec" stroke-width="0.8"/>
<rect x="325.6" y="269.2" width="215.9" height="160.4" fill="none" stroke="#808080" stroke-width="0.75"/>
<path d="M357.9 429.6v-2M357.9 269.2v2" stroke="#666" stroke-width="0.6"/>
<path d="M391.9 429.6v-2M391.9 269.2v2" stroke="#666" stroke-width="0.6"/>
<path d="M425.9 429.6v-2M425.9 269.2v2" stroke="#666" stroke-width="0.6"/>
<path d="M459.9 429.6v-2M459.9 269.2v2" stroke="#666" stroke-width="0.6"/>
<path d="M493.9 429.6v-2M493.9 269.2v2" stroke="#666" stroke-width="0.6"/>
<path d="M527.9 429.6v-2M527.9 269.2v2" stroke="#666" stroke-width="0.6"/>
<path d="M325.6 269.2h2M541.5 269.2h-2" stroke="#666" stroke-width="0.6"/>
<path d="M325.6 309.3h2M541.5 309.3h-2" stroke="#666" stroke-width="0.6"/>
<path d="M325.6 349.4h2M541.5 349.4h-2" stroke="#666" stroke-width="0.6"/>
<path d="M325.6 389.5h2M541.5 389.5h-2" stroke="#666" stroke-width="0.6"/>
<path d="M325.6 429.6h2M541.5 429.6h-2" stroke="#666" stroke-width="0.6"/>
<g clip-path="url(#lc4)">
<polyline points="325.6,330.95 327.3,325.34 329,322.93 330.7,320.53 332.4,318.92 334.1,322.93 335.8,318.12 337.5,316.92 339.2,304.49 340.9,299.68 342.6,300.48 344.3,294.86 346,299.68 347.7,302.08 349.4,290.05 351.1,286.04 352.8,297.27 354.5,298.07 356.2,312.51 357.9,311.71 359.6,312.51 361.3,307.7 363,313.31 364.7,312.51 366.4,306.09 368.1,306.49 369.8,310.1 371.5,318.12 373.2,314.91 374.9,316.92 376.6,315.72 378.3,313.31 380,302.88 381.7,306.49 383.4,308.5 385.1,307.7 386.8,297.27 388.5,291.66 390.2,294.86 391.9,285.64 393.6,287.65 395.3,278.82 397,271.61 398.7,269.2 400.4,284.44 402.1,290.05 403.8,283.24 405.5,288.05 407.2,279.22 408.9,282.03 410.6,290.05 412.3,297.27 414,290.05 415.7,291.66 417.4,292.46 419.1,298.47 420.8,286.84 422.5,297.27 424.2,299.68 425.9,292.06 427.6,305.29 429.3,300.48 431,297.27 432.7,293.26 434.4,299.68 436.1,312.51 437.8,318.12 439.5,315.72 441.2,322.93 442.9,325.34 444.6,323.74 446.3,327.35 448,331.76 449.7,316.52 451.4,329.35 453.1,316.52 454.8,334.16 456.5,336.57 458.2,333.76 459.9,328.55 461.6,336.57 463.3,334.16 465,341.38 466.7,343.79 468.4,342.18 470.1,348.2 471.8,344.59 473.5,348.6 475.2,351.81 476.9,349.4 478.6,354.21 480.3,351.81 482,352.61 483.7,354.61 485.4,347.8 487.1,345.39 488.8,345.79 490.5,328.55 492.2,313.31 493.9,327.35 495.6,348.2 497.3,347.8 499,344.59 500.7,329.75 502.4,344.59 504.1,351.81 505.8,344.59 507.5,345.79 509.2,356.22 510.9,356.22 512.6,355.01 514.3,354.21 516,354.21 517.7,330.95 519.4,349.4 521.1,343.79 522.8,351.81 524.5,352.61 526.2,350.6 527.9,349.4 529.6,349.4 531.3,345.79 533,350.6 534.7,348.6 536.4,354.21 538.1,356.22 539.8,354.21 541.5,353.41" fill="none" stroke="#0072BD" stroke-width="1.5" stroke-linejoin="round"/>
<path d="M323.5 328.85h4.2v4.2h-4.2zM325.2 323.24h4.2v4.2h-4.2zM326.9 320.83h4.2v4.2h-4.2zM328.6 318.43h4.2v4.2h-4.2zM330.3 316.82h4.2v4.2h-4.2zM332 320.83h4.2v4.2h-4.2zM333.7 316.02h4.2v4.2h-4.2zM335.4 314.82h4.2v4.2h-4.2zM337.1 302.39h4.2v4.2h-4.2zM338.8 297.58h4.2v4.2h-4.2zM340.5 298.38h4.2v4.2h-4.2zM342.2 292.76h4.2v4.2h-4.2zM343.9 297.58h4.2v4.2h-4.2zM345.6 299.98h4.2v4.2h-4.2zM347.3 287.95h4.2v4.2h-4.2zM349 283.94h4.2v4.2h-4.2zM350.7 295.17h4.2v4.2h-4.2zM352.4 295.97h4.2v4.2h-4.2zM354.1 310.41h4.2v4.2h-4.2zM355.8 309.61h4.2v4.2h-4.2zM357.5 310.41h4.2v4.2h-4.2zM359.2 305.6h4.2v4.2h-4.2zM360.9 311.21h4.2v4.2h-4.2zM362.6 310.41h4.2v4.2h-4.2zM364.3 303.99h4.2v4.2h-4.2zM366 304.39h4.2v4.2h-4.2zM367.7 308h4.2v4.2h-4.2zM369.4 316.02h4.2v4.2h-4.2zM371.1 312.81h4.2v4.2h-4.2zM372.8 314.82h4.2v4.2h-4.2zM374.5 313.62h4.2v4.2h-4.2zM376.2 311.21h4.2v4.2h-4.2zM377.9 300.78h4.2v4.2h-4.2zM379.6 304.39h4.2v4.2h-4.2zM381.3 306.4h4.2v4.2h-4.2zM383 305.6h4.2v4.2h-4.2zM384.7 295.17h4.2v4.2h-4.2zM386.4 289.56h4.2v4.2h-4.2zM388.1 292.76h4.2v4.2h-4.2zM389.8 283.54h4.2v4.2h-4.2zM391.5 285.55h4.2v4.2h-4.2zM393.2 276.72h4.2v4.2h-4.2zM394.9 269.51h4.2v4.2h-4.2zM396.6 267.1h4.2v4.2h-4.2zM398.3 282.34h4.2v4.2h-4.2zM400 287.95h4.2v4.2h-4.2zM401.7 281.13h4.2v4.2h-4.2zM403.4 285.95h4.2v4.2h-4.2zM405.1 277.12h4.2v4.2h-4.2zM406.8 279.93h4.2v4.2h-4.2zM408.5 287.95h4.2v4.2h-4.2zM410.2 295.17h4.2v4.2h-4.2zM411.9 287.95h4.2v4.2h-4.2zM413.6 289.56h4.2v4.2h-4.2zM415.3 290.36h4.2v4.2h-4.2zM417 296.37h4.2v4.2h-4.2zM418.7 284.74h4.2v4.2h-4.2zM420.4 295.17h4.2v4.2h-4.2zM422.1 297.58h4.2v4.2h-4.2zM423.8 289.96h4.2v4.2h-4.2zM425.5 303.19h4.2v4.2h-4.2zM427.2 298.38h4.2v4.2h-4.2zM428.9 295.17h4.2v4.2h-4.2zM430.6 291.16h4.2v4.2h-4.2zM432.3 297.58h4.2v4.2h-4.2zM434 310.41h4.2v4.2h-4.2zM435.7 316.02h4.2v4.2h-4.2zM437.4 313.62h4.2v4.2h-4.2zM439.1 320.83h4.2v4.2h-4.2zM440.8 323.24h4.2v4.2h-4.2zM442.5 321.64h4.2v4.2h-4.2zM444.2 325.25h4.2v4.2h-4.2zM445.9 329.66h4.2v4.2h-4.2zM447.6 314.42h4.2v4.2h-4.2zM449.3 327.25h4.2v4.2h-4.2zM451 314.42h4.2v4.2h-4.2zM452.7 332.06h4.2v4.2h-4.2zM454.4 334.47h4.2v4.2h-4.2zM456.1 331.66h4.2v4.2h-4.2zM457.8 326.45h4.2v4.2h-4.2zM459.5 334.47h4.2v4.2h-4.2zM461.2 332.06h4.2v4.2h-4.2zM462.9 339.28h4.2v4.2h-4.2zM464.6 341.69h4.2v4.2h-4.2zM466.3 340.08h4.2v4.2h-4.2zM468 346.1h4.2v4.2h-4.2zM469.7 342.49h4.2v4.2h-4.2zM471.4 346.5h4.2v4.2h-4.2zM473.1 349.71h4.2v4.2h-4.2zM474.8 347.3h4.2v4.2h-4.2zM476.5 352.11h4.2v4.2h-4.2zM478.2 349.71h4.2v4.2h-4.2zM479.9 350.51h4.2v4.2h-4.2zM481.6 352.51h4.2v4.2h-4.2zM483.3 345.7h4.2v4.2h-4.2zM485 343.29h4.2v4.2h-4.2zM486.7 343.69h4.2v4.2h-4.2zM488.4 326.45h4.2v4.2h-4.2zM490.1 311.21h4.2v4.2h-4.2zM491.8 325.25h4.2v4.2h-4.2zM493.5 346.1h4.2v4.2h-4.2zM495.2 345.7h4.2v4.2h-4.2zM496.9 342.49h4.2v4.2h-4.2zM498.6 327.65h4.2v4.2h-4.2zM500.3 342.49h4.2v4.2h-4.2zM502 349.71h4.2v4.2h-4.2zM503.7 342.49h4.2v4.2h-4.2zM505.4 343.69h4.2v4.2h-4.2zM507.1 354.12h4.2v4.2h-4.2zM508.8 354.12h4.2v4.2h-4.2zM510.5 352.91h4.2v4.2h-4.2zM512.2 352.11h4.2v4.2h-4.2zM513.9 352.11h4.2v4.2h-4.2zM515.6 328.85h4.2v4.2h-4.2zM517.3 347.3h4.2v4.2h-4.2zM519 341.69h4.2v4.2h-4.2zM520.7 349.71h4.2v4.2h-4.2zM522.4 350.51h4.2v4.2h-4.2zM524.1 348.5h4.2v4.2h-4.2zM525.8 347.3h4.2v4.2h-4.2zM527.5 347.3h4.2v4.2h-4.2zM529.2 343.69h4.2v4.2h-4.2zM530.9 348.5h4.2v4.2h-4.2zM532.6 346.5h4.2v4.2h-4.2zM534.3 352.11h4.2v4.2h-4.2zM536 354.12h4.2v4.2h-4.2zM537.7 352.11h4.2v4.2h-4.2zM539.4 351.31h4.2v4.2h-4.2z" fill="#0072BD"/>
</g>
<g clip-path="url(#lc4)">
<polyline points="325.6,385.49 327.3,377.47 329,386.29 330.7,385.49 332.4,364.64 334.1,373.46 335.8,391.1 337.5,393.51 339.2,337.77 340.9,371.05 342.6,352.61 344.3,362.23 346,369.45 347.7,390.3 349.4,390.3 351.1,365.44 352.8,370.25 354.5,375.87 356.2,381.48 357.9,334.16 359.6,343.79 361.3,336.57 363,346.19 364.7,352.61 366.4,336.17 368.1,334.96 369.8,346.19 371.5,336.57 373.2,334.16 374.9,333.36 376.6,392.71 378.3,415.16 380,414.36 381.7,401.53 383.4,416.77 385.1,409.55 386.8,383.08 388.5,343.79 390.2,389.5 391.9,342.18 393.6,338.97 395.3,328.55 397,295.67 398.7,269.2 400.4,290.05 402.1,357.42 403.8,357.42 405.5,319.32 407.2,370.25 408.9,377.47 410.6,377.47 412.3,326.14 414,379.48 415.7,386.29 417.4,380.68 419.1,380.68 420.8,377.87 422.5,380.68 424.2,381.48 425.9,388.7 427.6,371.45 429.3,367.04 431,363.84 432.7,375.06 434.4,369.05 436.1,378.27 437.8,401.93 439.5,386.29 441.2,379.48 442.9,375.87 444.6,375.06 446.3,383.08 448,386.29 449.7,393.51 451.4,375.87 453.1,394.31 454.8,396.72 456.5,396.72 458.2,415.16 459.9,401.53 461.6,393.51 463.3,401.53 465,401.53 466.7,419.98 468.4,419.98 470.1,417.57 471.8,400.33 473.5,413.16 475.2,424.79 476.9,410.75 478.6,415.16 480.3,389.9 482,417.57 483.7,424.79 485.4,422.38 487.1,414.36 488.8,427.19 490.5,417.57 492.2,401.53 493.9,387.9 495.6,401.53 497.3,413.16 499,408.75 500.7,419.98 502.4,415.16 504.1,391.1 505.8,413.16 507.5,422.38 509.2,413.16 510.9,437.62 512.6,437.62 514.3,433.61 516,425.59 517.7,405.54 519.4,422.38 521.1,415.16 522.8,415.16 524.5,425.59 526.2,433.61 527.9,437.62 529.6,428.4 531.3,427.19 533,427.6 534.7,432.01 536.4,429.6 538.1,427.19 539.8,427.6 541.5,425.59" fill="none" stroke="#D95319" stroke-width="1.5" stroke-linejoin="round"/>
<path d="M323.5 383.39h4.2v4.2h-4.2zM325.2 375.37h4.2v4.2h-4.2zM326.9 384.19h4.2v4.2h-4.2zM328.6 383.39h4.2v4.2h-4.2zM330.3 362.54h4.2v4.2h-4.2zM332 371.36h4.2v4.2h-4.2zM333.7 389h4.2v4.2h-4.2zM335.4 391.41h4.2v4.2h-4.2zM337.1 335.67h4.2v4.2h-4.2zM338.8 368.95h4.2v4.2h-4.2zM340.5 350.51h4.2v4.2h-4.2zM342.2 360.13h4.2v4.2h-4.2zM343.9 367.35h4.2v4.2h-4.2zM345.6 388.2h4.2v4.2h-4.2zM347.3 388.2h4.2v4.2h-4.2zM349 363.34h4.2v4.2h-4.2zM350.7 368.15h4.2v4.2h-4.2zM352.4 373.77h4.2v4.2h-4.2zM354.1 379.38h4.2v4.2h-4.2zM355.8 332.06h4.2v4.2h-4.2zM357.5 341.69h4.2v4.2h-4.2zM359.2 334.47h4.2v4.2h-4.2zM360.9 344.09h4.2v4.2h-4.2zM362.6 350.51h4.2v4.2h-4.2zM364.3 334.07h4.2v4.2h-4.2zM366 332.86h4.2v4.2h-4.2zM367.7 344.09h4.2v4.2h-4.2zM369.4 334.47h4.2v4.2h-4.2zM371.1 332.06h4.2v4.2h-4.2zM372.8 331.26h4.2v4.2h-4.2zM374.5 390.61h4.2v4.2h-4.2zM376.2 413.06h4.2v4.2h-4.2zM377.9 412.26h4.2v4.2h-4.2zM379.6 399.43h4.2v4.2h-4.2zM381.3 414.67h4.2v4.2h-4.2zM383 407.45h4.2v4.2h-4.2zM384.7 380.98h4.2v4.2h-4.2zM386.4 341.69h4.2v4.2h-4.2zM388.1 387.4h4.2v4.2h-4.2zM389.8 340.08h4.2v4.2h-4.2zM391.5 336.87h4.2v4.2h-4.2zM393.2 326.45h4.2v4.2h-4.2zM394.9 293.57h4.2v4.2h-4.2zM396.6 267.1h4.2v4.2h-4.2zM398.3 287.95h4.2v4.2h-4.2zM400 355.32h4.2v4.2h-4.2zM401.7 355.32h4.2v4.2h-4.2zM403.4 317.22h4.2v4.2h-4.2zM405.1 368.15h4.2v4.2h-4.2zM406.8 375.37h4.2v4.2h-4.2zM408.5 375.37h4.2v4.2h-4.2zM410.2 324.04h4.2v4.2h-4.2zM411.9 377.38h4.2v4.2h-4.2zM413.6 384.19h4.2v4.2h-4.2zM415.3 378.58h4.2v4.2h-4.2zM417 378.58h4.2v4.2h-4.2zM418.7 375.77h4.2v4.2h-4.2zM420.4 378.58h4.2v4.2h-4.2zM422.1 379.38h4.2v4.2h-4.2zM423.8 386.6h4.2v4.2h-4.2zM425.5 369.35h4.2v4.2h-4.2zM427.2 364.94h4.2v4.2h-4.2zM428.9 361.74h4.2v4.2h-4.2zM430.6 372.96h4.2v4.2h-4.2zM432.3 366.95h4.2v4.2h-4.2zM434 376.17h4.2v4.2h-4.2zM435.7 399.83h4.2v4.2h-4.2zM437.4 384.19h4.2v4.2h-4.2zM439.1 377.38h4.2v4.2h-4.2zM440.8 373.77h4.2v4.2h-4.2zM442.5 372.96h4.2v4.2h-4.2zM444.2 380.98h4.2v4.2h-4.2zM445.9 384.19h4.2v4.2h-4.2zM447.6 391.41h4.2v4.2h-4.2zM449.3 373.77h4.2v4.2h-4.2zM451 392.21h4.2v4.2h-4.2zM452.7 394.62h4.2v4.2h-4.2zM454.4 394.62h4.2v4.2h-4.2zM456.1 413.06h4.2v4.2h-4.2zM457.8 399.43h4.2v4.2h-4.2zM459.5 391.41h4.2v4.2h-4.2zM461.2 399.43h4.2v4.2h-4.2zM462.9 399.43h4.2v4.2h-4.2zM464.6 417.88h4.2v4.2h-4.2zM466.3 417.88h4.2v4.2h-4.2zM468 415.47h4.2v4.2h-4.2zM469.7 398.23h4.2v4.2h-4.2zM471.4 411.06h4.2v4.2h-4.2zM473.1 422.69h4.2v4.2h-4.2zM474.8 408.65h4.2v4.2h-4.2zM476.5 413.06h4.2v4.2h-4.2zM478.2 387.8h4.2v4.2h-4.2zM479.9 415.47h4.2v4.2h-4.2zM481.6 422.69h4.2v4.2h-4.2zM483.3 420.28h4.2v4.2h-4.2zM485 412.26h4.2v4.2h-4.2zM486.7 425.09h4.2v4.2h-4.2zM488.4 415.47h4.2v4.2h-4.2zM490.1 399.43h4.2v4.2h-4.2zM491.8 385.8h4.2v4.2h-4.2zM493.5 399.43h4.2v4.2h-4.2zM495.2 411.06h4.2v4.2h-4.2zM496.9 406.65h4.2v4.2h-4.2zM498.6 417.88h4.2v4.2h-4.2zM500.3 413.06h4.2v4.2h-4.2zM502 389h4.2v4.2h-4.2zM503.7 411.06h4.2v4.2h-4.2zM505.4 420.28h4.2v4.2h-4.2zM507.1 411.06h4.2v4.2h-4.2zM513.9 423.49h4.2v4.2h-4.2zM515.6 403.44h4.2v4.2h-4.2zM517.3 420.28h4.2v4.2h-4.2zM519 413.06h4.2v4.2h-4.2zM520.7 413.06h4.2v4.2h-4.2zM522.4 423.49h4.2v4.2h-4.2zM527.5 426.3h4.2v4.2h-4.2zM529.2 425.09h4.2v4.2h-4.2zM530.9 425.5h4.2v4.2h-4.2zM532.6 429.91h4.2v4.2h-4.2zM534.3 427.5h4.2v4.2h-4.2zM536 425.09h4.2v4.2h-4.2zM537.7 425.5h4.2v4.2h-4.2zM539.4 423.49h4.2v4.2h-4.2z" fill="#D95319"/>
</g>
<line x1="398.7" y1="269.2" x2="398.7" y2="429.6" stroke="#00FF00" stroke-width="1.5" stroke-dasharray="4.5 3.2"/>
<rect x="441.2" y="273.6" width="95.1" height="38.8" fill="#fff" stroke="#555" stroke-width="0.7"/>
<line x1="443.5" y1="282" x2="463.1" y2="282" stroke="#0072BD" stroke-width="1.5"/>
<rect x="451.2" y="279.9" width="4.2" height="4.2" fill="#0072BD"/>
<text x="464.8" y="285.4" class="lg">GRFT</text>
<line x1="443.5" y1="294.4" x2="463.1" y2="294.4" stroke="#D95319" stroke-width="1.5"/>
<rect x="451.2" y="292.3" width="4.2" height="4.2" fill="#D95319"/>
<text x="464.8" y="297.8" class="lg">AFS-GRFT</text>
<line x1="443.5" y1="306.4" x2="463.1" y2="306.4" stroke="#00FF00" stroke-width="1.5" stroke-dasharray="4.5 3.2"/>
<text x="464.8" y="309.8" class="lg">Actual (Target 1)</text>
<text x="357.9" y="444.6" text-anchor="middle" class="tk">20</text>
<text x="391.9" y="444.6" text-anchor="middle" class="tk">40</text>
<text x="425.9" y="444.6" text-anchor="middle" class="tk">60</text>
<text x="459.9" y="444.6" text-anchor="middle" class="tk">80</text>
<text x="493.9" y="444.6" text-anchor="middle" class="tk">100</text>
<text x="527.9" y="444.6" text-anchor="middle" class="tk">120</text>
<text x="321.8" y="274" text-anchor="end" class="tk">0</text>
<text x="321.8" y="314.1" text-anchor="end" class="tk">-5</text>
<text x="321.8" y="354.2" text-anchor="end" class="tk">-10</text>
<text x="321.8" y="394.3" text-anchor="end" class="tk">-15</text>
<text x="321.8" y="434.4" text-anchor="end" class="tk">-20</text>
<text x="433.55" y="460" text-anchor="middle" class="lb">Candidate trajectory number</text>
<text transform="translate(301.7,349.4) rotate(-90)" text-anchor="middle" class="lb yl">Normalized amplitude (dB)</text>
<text x="423.7" y="485" text-anchor="middle" class="cap"><tspan class="pr">(</tspan>d<tspan class="pr">)</tspan></text>
<clipPath id="lc5"><rect x="35.6" y="518.6" width="221.5" height="163.3"/></clipPath>
<rect x="38.6" y="521.6" width="215.5" height="160.3" fill="#fff"/>
<line x1="70.84" y1="521.6" x2="70.84" y2="681.9" stroke="#ececec" stroke-width="0.8"/>
<line x1="104.78" y1="521.6" x2="104.78" y2="681.9" stroke="#ececec" stroke-width="0.8"/>
<line x1="138.71" y1="521.6" x2="138.71" y2="681.9" stroke="#ececec" stroke-width="0.8"/>
<line x1="172.65" y1="521.6" x2="172.65" y2="681.9" stroke="#ececec" stroke-width="0.8"/>
<line x1="206.59" y1="521.6" x2="206.59" y2="681.9" stroke="#ececec" stroke-width="0.8"/>
<line x1="240.53" y1="521.6" x2="240.53" y2="681.9" stroke="#ececec" stroke-width="0.8"/>
<line x1="38.6" y1="561.67" x2="254.1" y2="561.67" stroke="#ececec" stroke-width="0.8"/>
<line x1="38.6" y1="601.75" x2="254.1" y2="601.75" stroke="#ececec" stroke-width="0.8"/>
<line x1="38.6" y1="641.83" x2="254.1" y2="641.83" stroke="#ececec" stroke-width="0.8"/>
<rect x="38.6" y="521.6" width="215.5" height="160.3" fill="none" stroke="#808080" stroke-width="0.75"/>
<path d="M70.84 681.9v-2M70.84 521.6v2" stroke="#666" stroke-width="0.6"/>
<path d="M104.78 681.9v-2M104.78 521.6v2" stroke="#666" stroke-width="0.6"/>
<path d="M138.71 681.9v-2M138.71 521.6v2" stroke="#666" stroke-width="0.6"/>
<path d="M172.65 681.9v-2M172.65 521.6v2" stroke="#666" stroke-width="0.6"/>
<path d="M206.59 681.9v-2M206.59 521.6v2" stroke="#666" stroke-width="0.6"/>
<path d="M240.53 681.9v-2M240.53 521.6v2" stroke="#666" stroke-width="0.6"/>
<path d="M38.6 521.6h2M254.1 521.6h-2" stroke="#666" stroke-width="0.6"/>
<path d="M38.6 561.67h2M254.1 561.67h-2" stroke="#666" stroke-width="0.6"/>
<path d="M38.6 601.75h2M254.1 601.75h-2" stroke="#666" stroke-width="0.6"/>
<path d="M38.6 641.83h2M254.1 641.83h-2" stroke="#666" stroke-width="0.6"/>
<path d="M38.6 681.9h2M254.1 681.9h-2" stroke="#666" stroke-width="0.6"/>
<g clip-path="url(#lc5)">
<polyline points="38.6,570.89 40.3,569.29 41.99,562.48 43.69,564.88 45.39,554.46 47.08,548.45 48.78,552.86 50.48,540.03 52.17,545.64 53.87,536.03 55.57,531.22 57.27,524 58.96,521.6 60.66,522.4 62.36,524 64.05,532.02 65.75,541.64 67.45,548.45 69.14,549.65 70.84,550.85 72.54,555.26 74.23,565.68 75.93,561.27 77.63,564.88 79.32,569.29 81.02,570.49 82.72,576.1 84.41,578.51 86.11,574.5 87.81,578.51 89.51,576.1 91.2,575.3 92.9,569.29 94.6,568.09 96.29,572.9 97.99,566.88 99.69,580.91 101.38,577.3 103.08,577.3 104.78,574.5 106.47,575.3 108.17,586.52 109.87,588.93 111.56,589.73 113.26,581.71 114.96,584.12 116.66,588.53 118.35,588.53 120.05,584.12 121.75,586.52 123.44,585.32 125.14,580.91 126.84,581.71 128.53,574.9 130.23,576.1 131.93,574.9 133.62,569.29 135.32,563.28 137.02,549.65 138.71,570.49 140.41,571.69 142.11,574.9 143.8,572.9 145.5,576.1 147.2,572.9 148.9,580.91 150.59,577.3 152.29,576.1 153.99,577.3 155.68,581.71 157.38,581.71 159.08,574.5 160.77,569.29 162.47,533.62 164.17,573.7 165.86,580.91 167.56,580.91 169.26,584.12 170.95,580.91 172.65,578.51 174.35,580.91 176.04,579.71 177.74,577.3 179.44,578.51 181.14,575.3 182.83,578.51 184.53,582.11 186.23,578.51 187.92,579.71 189.62,576.1 191.32,578.51 193.01,583.32 194.71,578.51 196.41,582.11 198.1,577.3 199.8,576.1 201.5,573.7 203.19,555.26 204.89,538.83 206.59,554.86 208.29,576.1 209.98,576.1 211.68,575.3 213.38,557.67 215.07,570.49 216.77,577.3 218.47,575.3 220.16,572.5 221.86,583.32 223.56,583.32 225.25,582.11 226.95,580.91 228.65,582.11 230.34,558.87 232.04,575.3 233.74,571.69 235.43,578.51 237.13,582.11 238.83,578.51 240.53,577.3 242.22,577.3 243.92,573.7 245.62,577.3 247.31,576.1 249.01,580.91 250.71,583.32 252.4,580.91 254.1,582.11" fill="none" stroke="#0072BD" stroke-width="1.5" stroke-linejoin="round"/>
<path d="M36.5 568.79h4.2v4.2h-4.2zM38.2 567.19h4.2v4.2h-4.2zM39.89 560.38h4.2v4.2h-4.2zM41.59 562.78h4.2v4.2h-4.2zM43.29 552.36h4.2v4.2h-4.2zM44.98 546.35h4.2v4.2h-4.2zM46.68 550.76h4.2v4.2h-4.2zM48.38 537.93h4.2v4.2h-4.2zM50.07 543.54h4.2v4.2h-4.2zM51.77 533.93h4.2v4.2h-4.2zM53.47 529.12h4.2v4.2h-4.2zM55.17 521.9h4.2v4.2h-4.2zM56.86 519.5h4.2v4.2h-4.2zM58.56 520.3h4.2v4.2h-4.2zM60.26 521.9h4.2v4.2h-4.2zM61.95 529.92h4.2v4.2h-4.2zM63.65 539.54h4.2v4.2h-4.2zM65.35 546.35h4.2v4.2h-4.2zM67.04 547.55h4.2v4.2h-4.2zM68.74 548.75h4.2v4.2h-4.2zM70.44 553.16h4.2v4.2h-4.2zM72.13 563.58h4.2v4.2h-4.2zM73.83 559.17h4.2v4.2h-4.2zM75.53 562.78h4.2v4.2h-4.2zM77.22 567.19h4.2v4.2h-4.2zM78.92 568.39h4.2v4.2h-4.2zM80.62 574h4.2v4.2h-4.2zM82.31 576.41h4.2v4.2h-4.2zM84.01 572.4h4.2v4.2h-4.2zM85.71 576.41h4.2v4.2h-4.2zM87.41 574h4.2v4.2h-4.2zM89.1 573.2h4.2v4.2h-4.2zM90.8 567.19h4.2v4.2h-4.2zM92.5 565.99h4.2v4.2h-4.2zM94.19 570.8h4.2v4.2h-4.2zM95.89 564.78h4.2v4.2h-4.2zM97.59 578.81h4.2v4.2h-4.2zM99.28 575.2h4.2v4.2h-4.2zM100.98 575.2h4.2v4.2h-4.2zM102.68 572.4h4.2v4.2h-4.2zM104.37 573.2h4.2v4.2h-4.2zM106.07 584.42h4.2v4.2h-4.2zM107.77 586.83h4.2v4.2h-4.2zM109.46 587.63h4.2v4.2h-4.2zM111.16 579.61h4.2v4.2h-4.2zM112.86 582.02h4.2v4.2h-4.2zM114.56 586.43h4.2v4.2h-4.2zM116.25 586.43h4.2v4.2h-4.2zM117.95 582.02h4.2v4.2h-4.2zM119.65 584.42h4.2v4.2h-4.2zM121.34 583.22h4.2v4.2h-4.2zM123.04 578.81h4.2v4.2h-4.2zM124.74 579.61h4.2v4.2h-4.2zM126.43 572.8h4.2v4.2h-4.2zM128.13 574h4.2v4.2h-4.2zM129.83 572.8h4.2v4.2h-4.2zM131.52 567.19h4.2v4.2h-4.2zM133.22 561.18h4.2v4.2h-4.2zM134.92 547.55h4.2v4.2h-4.2zM136.61 568.39h4.2v4.2h-4.2zM138.31 569.59h4.2v4.2h-4.2zM140.01 572.8h4.2v4.2h-4.2zM141.7 570.8h4.2v4.2h-4.2zM143.4 574h4.2v4.2h-4.2zM145.1 570.8h4.2v4.2h-4.2zM146.8 578.81h4.2v4.2h-4.2zM148.49 575.2h4.2v4.2h-4.2zM150.19 574h4.2v4.2h-4.2zM151.89 575.2h4.2v4.2h-4.2zM153.58 579.61h4.2v4.2h-4.2zM155.28 579.61h4.2v4.2h-4.2zM156.98 572.4h4.2v4.2h-4.2zM158.67 567.19h4.2v4.2h-4.2zM160.37 531.52h4.2v4.2h-4.2zM162.07 571.6h4.2v4.2h-4.2zM163.76 578.81h4.2v4.2h-4.2zM165.46 578.81h4.2v4.2h-4.2zM167.16 582.02h4.2v4.2h-4.2zM168.85 578.81h4.2v4.2h-4.2zM170.55 576.41h4.2v4.2h-4.2zM172.25 578.81h4.2v4.2h-4.2zM173.94 577.61h4.2v4.2h-4.2zM175.64 575.2h4.2v4.2h-4.2zM177.34 576.41h4.2v4.2h-4.2zM179.04 573.2h4.2v4.2h-4.2zM180.73 576.41h4.2v4.2h-4.2zM182.43 580.01h4.2v4.2h-4.2zM184.13 576.41h4.2v4.2h-4.2zM185.82 577.61h4.2v4.2h-4.2zM187.52 574h4.2v4.2h-4.2zM189.22 576.41h4.2v4.2h-4.2zM190.91 581.22h4.2v4.2h-4.2zM192.61 576.41h4.2v4.2h-4.2zM194.31 580.01h4.2v4.2h-4.2zM196 575.2h4.2v4.2h-4.2zM197.7 574h4.2v4.2h-4.2zM199.4 571.6h4.2v4.2h-4.2zM201.09 553.16h4.2v4.2h-4.2zM202.79 536.73h4.2v4.2h-4.2zM204.49 552.76h4.2v4.2h-4.2zM206.19 574h4.2v4.2h-4.2zM207.88 574h4.2v4.2h-4.2zM209.58 573.2h4.2v4.2h-4.2zM211.28 555.57h4.2v4.2h-4.2zM212.97 568.39h4.2v4.2h-4.2zM214.67 575.2h4.2v4.2h-4.2zM216.37 573.2h4.2v4.2h-4.2zM218.06 570.4h4.2v4.2h-4.2zM219.76 581.22h4.2v4.2h-4.2zM221.46 581.22h4.2v4.2h-4.2zM223.15 580.01h4.2v4.2h-4.2zM224.85 578.81h4.2v4.2h-4.2zM226.55 580.01h4.2v4.2h-4.2zM228.24 556.77h4.2v4.2h-4.2zM229.94 573.2h4.2v4.2h-4.2zM231.64 569.59h4.2v4.2h-4.2zM233.33 576.41h4.2v4.2h-4.2zM235.03 580.01h4.2v4.2h-4.2zM236.73 576.41h4.2v4.2h-4.2zM238.43 575.2h4.2v4.2h-4.2zM240.12 575.2h4.2v4.2h-4.2zM241.82 571.6h4.2v4.2h-4.2zM243.52 575.2h4.2v4.2h-4.2zM245.21 574h4.2v4.2h-4.2zM246.91 578.81h4.2v4.2h-4.2zM248.61 581.22h4.2v4.2h-4.2zM250.3 578.81h4.2v4.2h-4.2zM252 580.01h4.2v4.2h-4.2z" fill="#0072BD"/>
</g>
<g clip-path="url(#lc5)">
<polyline points="38.6,604.15 40.3,594.54 41.99,607.36 43.69,601.75 45.39,577.3 47.08,581.71 48.78,532.02 50.48,532.02 52.17,577.3 53.87,581.71 55.57,521.6 57.27,549.65 58.96,554.46 60.66,576.1 62.36,576.1 64.05,574.5 65.75,578.51 67.45,614.57 69.14,596.14 70.84,596.14 72.54,593.74 74.23,594.54 75.93,614.57 77.63,599.35 79.32,602.95 81.02,600.55 82.72,606.56 84.41,604.96 86.11,607.36 87.81,609.76 89.51,616.98 91.2,608.96 92.9,621.39 94.6,602.95 96.29,616.98 97.99,616.98 99.69,614.57 101.38,623.79 103.08,607.36 104.78,622.59 106.47,621.39 108.17,622.59 109.87,628.2 111.56,620.18 113.26,615.38 114.96,612.17 116.66,620.18 118.35,614.57 120.05,628.2 121.75,622.59 123.44,623.79 125.14,614.57 126.84,620.18 128.53,610.97 130.23,614.57 131.93,620.18 133.62,616.98 135.32,630.6 137.02,590.13 138.71,631.81 140.41,616.98 142.11,625.79 143.8,619.38 145.5,622.59 147.2,615.38 148.9,628.2 150.59,631.81 152.29,625.79 153.99,606.56 155.68,615.38 157.38,623.79 159.08,620.18 160.77,629.8 162.47,588.93 164.17,613.37 165.86,627.4 167.56,622.59 169.26,625.79 170.95,623.79 172.65,613.37 174.35,616.98 176.04,633.01 177.74,636.21 179.44,614.57 181.14,606.56 182.83,616.98 184.53,617.78 186.23,590.13 187.92,620.18 189.62,634.21 191.32,621.39 193.01,586.52 194.71,631.81 196.41,661.86 198.1,615.38 199.8,625.79 201.5,622.59 203.19,616.98 204.89,596.94 206.59,584.12 208.29,625.79 209.98,604.15 211.68,609.76 213.38,610.97 215.07,625.79 216.77,586.52 218.47,671.48 220.16,609.76 221.86,627.4 223.56,697.93 225.25,631.81 226.95,624.99 228.65,620.18 230.34,602.55 232.04,614.57 233.74,610.97 235.43,622.59 237.13,697.93 238.83,697.93 240.53,645.83 242.22,623.79 243.92,622.59 245.62,705.94 247.31,693.92 249.01,627.4 250.71,622.59 252.4,705.94 254.1,630.6" fill="none" stroke="#D95319" stroke-width="1.5" stroke-linejoin="round"/>
<path d="M36.5 602.05h4.2v4.2h-4.2zM38.2 592.44h4.2v4.2h-4.2zM39.89 605.26h4.2v4.2h-4.2zM41.59 599.65h4.2v4.2h-4.2zM43.29 575.2h4.2v4.2h-4.2zM44.98 579.61h4.2v4.2h-4.2zM46.68 529.92h4.2v4.2h-4.2zM48.38 529.92h4.2v4.2h-4.2zM50.07 575.2h4.2v4.2h-4.2zM51.77 579.61h4.2v4.2h-4.2zM53.47 519.5h4.2v4.2h-4.2zM55.17 547.55h4.2v4.2h-4.2zM56.86 552.36h4.2v4.2h-4.2zM58.56 574h4.2v4.2h-4.2zM60.26 574h4.2v4.2h-4.2zM61.95 572.4h4.2v4.2h-4.2zM63.65 576.41h4.2v4.2h-4.2zM65.35 612.47h4.2v4.2h-4.2zM67.04 594.04h4.2v4.2h-4.2zM68.74 594.04h4.2v4.2h-4.2zM70.44 591.63h4.2v4.2h-4.2zM72.13 592.44h4.2v4.2h-4.2zM73.83 612.47h4.2v4.2h-4.2zM75.53 597.25h4.2v4.2h-4.2zM77.22 600.85h4.2v4.2h-4.2zM78.92 598.45h4.2v4.2h-4.2zM80.62 604.46h4.2v4.2h-4.2zM82.31 602.86h4.2v4.2h-4.2zM84.01 605.26h4.2v4.2h-4.2zM85.71 607.66h4.2v4.2h-4.2zM87.41 614.88h4.2v4.2h-4.2zM89.1 606.86h4.2v4.2h-4.2zM90.8 619.29h4.2v4.2h-4.2zM92.5 600.85h4.2v4.2h-4.2zM94.19 614.88h4.2v4.2h-4.2zM95.89 614.88h4.2v4.2h-4.2zM97.59 612.47h4.2v4.2h-4.2zM99.28 621.69h4.2v4.2h-4.2zM100.98 605.26h4.2v4.2h-4.2zM102.68 620.49h4.2v4.2h-4.2zM104.37 619.29h4.2v4.2h-4.2zM106.07 620.49h4.2v4.2h-4.2zM107.77 626.1h4.2v4.2h-4.2zM109.46 618.08h4.2v4.2h-4.2zM111.16 613.28h4.2v4.2h-4.2zM112.86 610.07h4.2v4.2h-4.2zM114.56 618.08h4.2v4.2h-4.2zM116.25 612.47h4.2v4.2h-4.2zM117.95 626.1h4.2v4.2h-4.2zM119.65 620.49h4.2v4.2h-4.2zM121.34 621.69h4.2v4.2h-4.2zM123.04 612.47h4.2v4.2h-4.2zM124.74 618.08h4.2v4.2h-4.2zM126.43 608.87h4.2v4.2h-4.2zM128.13 612.47h4.2v4.2h-4.2zM129.83 618.08h4.2v4.2h-4.2zM131.52 614.88h4.2v4.2h-4.2zM133.22 628.5h4.2v4.2h-4.2zM134.92 588.03h4.2v4.2h-4.2zM136.61 629.71h4.2v4.2h-4.2zM138.31 614.88h4.2v4.2h-4.2zM140.01 623.69h4.2v4.2h-4.2zM141.7 617.28h4.2v4.2h-4.2zM143.4 620.49h4.2v4.2h-4.2zM145.1 613.28h4.2v4.2h-4.2zM146.8 626.1h4.2v4.2h-4.2zM148.49 629.71h4.2v4.2h-4.2zM150.19 623.69h4.2v4.2h-4.2zM151.89 604.46h4.2v4.2h-4.2zM153.58 613.28h4.2v4.2h-4.2zM155.28 621.69h4.2v4.2h-4.2zM156.98 618.08h4.2v4.2h-4.2zM158.67 627.7h4.2v4.2h-4.2zM160.37 586.83h4.2v4.2h-4.2zM162.07 611.27h4.2v4.2h-4.2zM163.76 625.3h4.2v4.2h-4.2zM165.46 620.49h4.2v4.2h-4.2zM167.16 623.69h4.2v4.2h-4.2zM168.85 621.69h4.2v4.2h-4.2zM170.55 611.27h4.2v4.2h-4.2zM172.25 614.88h4.2v4.2h-4.2zM173.94 630.91h4.2v4.2h-4.2zM175.64 634.11h4.2v4.2h-4.2zM177.34 612.47h4.2v4.2h-4.2zM179.04 604.46h4.2v4.2h-4.2zM180.73 614.88h4.2v4.2h-4.2zM182.43 615.68h4.2v4.2h-4.2zM184.13 588.03h4.2v4.2h-4.2zM185.82 618.08h4.2v4.2h-4.2zM187.52 632.11h4.2v4.2h-4.2zM189.22 619.29h4.2v4.2h-4.2zM190.91 584.42h4.2v4.2h-4.2zM192.61 629.71h4.2v4.2h-4.2zM194.31 659.76h4.2v4.2h-4.2zM196 613.28h4.2v4.2h-4.2zM197.7 623.69h4.2v4.2h-4.2zM199.4 620.49h4.2v4.2h-4.2zM201.09 614.88h4.2v4.2h-4.2zM202.79 594.84h4.2v4.2h-4.2zM204.49 582.02h4.2v4.2h-4.2zM206.19 623.69h4.2v4.2h-4.2zM207.88 602.05h4.2v4.2h-4.2zM209.58 607.66h4.2v4.2h-4.2zM211.28 608.87h4.2v4.2h-4.2zM212.97 623.69h4.2v4.2h-4.2zM214.67 584.42h4.2v4.2h-4.2zM216.37 669.38h4.2v4.2h-4.2zM218.06 607.66h4.2v4.2h-4.2zM219.76 625.3h4.2v4.2h-4.2zM223.15 629.71h4.2v4.2h-4.2zM224.85 622.89h4.2v4.2h-4.2zM226.55 618.08h4.2v4.2h-4.2zM228.24 600.45h4.2v4.2h-4.2zM229.94 612.47h4.2v4.2h-4.2zM231.64 608.87h4.2v4.2h-4.2zM233.33 620.49h4.2v4.2h-4.2zM238.43 643.73h4.2v4.2h-4.2zM240.12 621.69h4.2v4.2h-4.2zM241.82 620.49h4.2v4.2h-4.2zM246.91 625.3h4.2v4.2h-4.2zM248.61 620.49h4.2v4.2h-4.2zM252 628.5h4.2v4.2h-4.2z" fill="#D95319"/>
</g>
<line x1="55.57" y1="521.6" x2="55.57" y2="681.9" stroke="#00FF00" stroke-width="1.5" stroke-dasharray="4.5 3.2"/>
<rect x="65.3" y="637" width="94.9" height="41.2" fill="#fff" stroke="#555" stroke-width="0.7"/>
<line x1="67.6" y1="644.6" x2="87.2" y2="644.6" stroke="#0072BD" stroke-width="1.5"/>
<rect x="75.3" y="642.5" width="4.2" height="4.2" fill="#0072BD"/>
<text x="88.9" y="648" class="lg">GRFT</text>
<line x1="67.6" y1="658" x2="87.2" y2="658" stroke="#D95319" stroke-width="1.5"/>
<rect x="75.3" y="655.9" width="4.2" height="4.2" fill="#D95319"/>
<text x="88.9" y="661.4" class="lg">AFS-GRFT</text>
<line x1="67.6" y1="671.5" x2="87.2" y2="671.5" stroke="#00FF00" stroke-width="1.5" stroke-dasharray="4.5 3.2"/>
<text x="88.9" y="674.9" class="lg">Actual (Target 2)</text>
<text x="70.84" y="696.9" text-anchor="middle" class="tk">20</text>
<text x="104.78" y="696.9" text-anchor="middle" class="tk">40</text>
<text x="138.71" y="696.9" text-anchor="middle" class="tk">60</text>
<text x="172.65" y="696.9" text-anchor="middle" class="tk">80</text>
<text x="206.59" y="696.9" text-anchor="middle" class="tk">100</text>
<text x="240.53" y="696.9" text-anchor="middle" class="tk">120</text>
<text x="34.8" y="526.4" text-anchor="end" class="tk">0</text>
<text x="34.8" y="566.47" text-anchor="end" class="tk">-5</text>
<text x="34.8" y="606.55" text-anchor="end" class="tk">-10</text>
<text x="34.8" y="646.62" text-anchor="end" class="tk">-15</text>
<text x="34.8" y="686.7" text-anchor="end" class="tk">-20</text>
<text x="146.35" y="712.4" text-anchor="middle" class="lb">Candidate trajectory number</text>
<text transform="translate(14.7,601.75) rotate(-90)" text-anchor="middle" class="lb yl">Normalized amplitude (dB)</text>
<text x="136.4" y="736.6" text-anchor="middle" class="cap"><tspan class="pr">(</tspan>e<tspan class="pr">)</tspan></text>
<clipPath id="lc6"><rect x="322.6" y="518.6" width="221.9" height="163.3"/></clipPath>
<rect x="325.6" y="521.6" width="215.9" height="160.3" fill="#fff"/>
<line x1="357.9" y1="521.6" x2="357.9" y2="681.9" stroke="#ececec" stroke-width="0.8"/>
<line x1="391.9" y1="521.6" x2="391.9" y2="681.9" stroke="#ececec" stroke-width="0.8"/>
<line x1="425.9" y1="521.6" x2="425.9" y2="681.9" stroke="#ececec" stroke-width="0.8"/>
<line x1="459.9" y1="521.6" x2="459.9" y2="681.9" stroke="#ececec" stroke-width="0.8"/>
<line x1="493.9" y1="521.6" x2="493.9" y2="681.9" stroke="#ececec" stroke-width="0.8"/>
<line x1="527.9" y1="521.6" x2="527.9" y2="681.9" stroke="#ececec" stroke-width="0.8"/>
<line x1="325.6" y1="561.67" x2="541.5" y2="561.67" stroke="#ececec" stroke-width="0.8"/>
<line x1="325.6" y1="601.75" x2="541.5" y2="601.75" stroke="#ececec" stroke-width="0.8"/>
<line x1="325.6" y1="641.83" x2="541.5" y2="641.83" stroke="#ececec" stroke-width="0.8"/>
<rect x="325.6" y="521.6" width="215.9" height="160.3" fill="none" stroke="#808080" stroke-width="0.75"/>
<path d="M357.9 681.9v-2M357.9 521.6v2" stroke="#666" stroke-width="0.6"/>
<path d="M391.9 681.9v-2M391.9 521.6v2" stroke="#666" stroke-width="0.6"/>
<path d="M425.9 681.9v-2M425.9 521.6v2" stroke="#666" stroke-width="0.6"/>
<path d="M459.9 681.9v-2M459.9 521.6v2" stroke="#666" stroke-width="0.6"/>
<path d="M493.9 681.9v-2M493.9 521.6v2" stroke="#666" stroke-width="0.6"/>
<path d="M527.9 681.9v-2M527.9 521.6v2" stroke="#666" stroke-width="0.6"/>
<path d="M325.6 521.6h2M541.5 521.6h-2" stroke="#666" stroke-width="0.6"/>
<path d="M325.6 561.67h2M541.5 561.67h-2" stroke="#666" stroke-width="0.6"/>
<path d="M325.6 601.75h2M541.5 601.75h-2" stroke="#666" stroke-width="0.6"/>
<path d="M325.6 641.83h2M541.5 641.83h-2" stroke="#666" stroke-width="0.6"/>
<path d="M325.6 681.9h2M541.5 681.9h-2" stroke="#666" stroke-width="0.6"/>
<g clip-path="url(#lc6)">
<polyline points="325.6,643.83 327.3,648.84 329,640.82 330.7,656.85 332.4,640.82 334.1,648.84 335.8,647.84 337.5,639.82 339.2,645.83 340.9,665.87 342.6,687.91 344.3,639.82 346,633.81 347.7,611.77 349.4,626.8 351.1,629.8 352.8,640.82 354.5,631.81 356.2,580.71 357.9,641.83 359.6,640.82 361.3,647.84 363,637.82 364.7,641.83 366.4,640.82 368.1,641.83 369.8,642.83 371.5,642.83 373.2,653.85 374.9,662.86 376.6,649.84 378.3,632.81 380,648.84 381.7,621.79 383.4,633.81 385.1,649.84 386.8,639.82 388.5,648.84 390.2,648.84 391.9,647.84 393.6,642.83 395.3,648.84 397,661.86 398.7,661.86 400.4,655.85 402.1,655.85 403.8,647.84 405.5,656.85 407.2,654.85 408.9,654.85 410.6,648.84 412.3,634.81 414,639.82 415.7,635.81 417.4,623.79 419.1,612.77 420.8,628.8 422.5,603.75 424.2,562.68 425.9,604.76 427.6,614.77 429.3,624.79 431,631.81 432.7,628.8 434.4,623.79 436.1,631.81 437.8,641.83 439.5,627.8 441.2,632.81 442.9,633.81 444.6,639.82 446.3,633.81 448,607.76 449.7,521.6 451.4,624.79 453.1,633.81 454.8,642.83 456.5,647.84 458.2,641.83 459.9,636.82 461.6,633.81 463.3,647.84 465,641.83 466.7,634.81 468.4,623.79 470.1,640.82 471.8,642.83 473.5,634.81 475.2,634.81 476.9,627.8 478.6,648.84 480.3,633.81 482,637.82 483.7,641.83 485.4,626.8 487.1,626.8 488.8,622.79 490.5,574.7 492.2,532.62 493.9,575.7 495.6,627.8 497.3,621.79 499,612.77 500.7,578.71 502.4,590.73 504.1,635.81 505.8,617.78 507.5,624.79 509.2,646.83 510.9,645.83 512.6,641.83 514.3,641.83 516,614.77 517.7,582.71 519.4,609.76 521.1,601.75 522.8,624.79 524.5,640.82 526.2,635.81 527.9,633.81 529.6,628.8 531.3,621.79 533,629.8 534.7,633.81 536.4,641.83 538.1,646.83 539.8,637.82 541.5,640.82" fill="none" stroke="#0072BD" stroke-width="1.5" stroke-linejoin="round"/>
<path d="M323.5 641.73h4.2v4.2h-4.2zM325.2 646.74h4.2v4.2h-4.2zM326.9 638.72h4.2v4.2h-4.2zM328.6 654.75h4.2v4.2h-4.2zM330.3 638.72h4.2v4.2h-4.2zM332 646.74h4.2v4.2h-4.2zM333.7 645.74h4.2v4.2h-4.2zM335.4 637.72h4.2v4.2h-4.2zM337.1 643.73h4.2v4.2h-4.2zM338.8 663.77h4.2v4.2h-4.2zM340.5 685.81h4.2v4.2h-4.2zM342.2 637.72h4.2v4.2h-4.2zM343.9 631.71h4.2v4.2h-4.2zM345.6 609.67h4.2v4.2h-4.2zM347.3 624.7h4.2v4.2h-4.2zM349 627.7h4.2v4.2h-4.2zM350.7 638.72h4.2v4.2h-4.2zM352.4 629.71h4.2v4.2h-4.2zM354.1 578.61h4.2v4.2h-4.2zM355.8 639.73h4.2v4.2h-4.2zM357.5 638.72h4.2v4.2h-4.2zM359.2 645.74h4.2v4.2h-4.2zM360.9 635.72h4.2v4.2h-4.2zM362.6 639.73h4.2v4.2h-4.2zM364.3 638.72h4.2v4.2h-4.2zM366 639.73h4.2v4.2h-4.2zM367.7 640.73h4.2v4.2h-4.2zM369.4 640.73h4.2v4.2h-4.2zM371.1 651.75h4.2v4.2h-4.2zM372.8 660.76h4.2v4.2h-4.2zM374.5 647.74h4.2v4.2h-4.2zM376.2 630.71h4.2v4.2h-4.2zM377.9 646.74h4.2v4.2h-4.2zM379.6 619.69h4.2v4.2h-4.2zM381.3 631.71h4.2v4.2h-4.2zM383 647.74h4.2v4.2h-4.2zM384.7 637.72h4.2v4.2h-4.2zM386.4 646.74h4.2v4.2h-4.2zM388.1 646.74h4.2v4.2h-4.2zM389.8 645.74h4.2v4.2h-4.2zM391.5 640.73h4.2v4.2h-4.2zM393.2 646.74h4.2v4.2h-4.2zM394.9 659.76h4.2v4.2h-4.2zM396.6 659.76h4.2v4.2h-4.2zM398.3 653.75h4.2v4.2h-4.2zM400 653.75h4.2v4.2h-4.2zM401.7 645.74h4.2v4.2h-4.2zM403.4 654.75h4.2v4.2h-4.2zM405.1 652.75h4.2v4.2h-4.2zM406.8 652.75h4.2v4.2h-4.2zM408.5 646.74h4.2v4.2h-4.2zM410.2 632.71h4.2v4.2h-4.2zM411.9 637.72h4.2v4.2h-4.2zM413.6 633.71h4.2v4.2h-4.2zM415.3 621.69h4.2v4.2h-4.2zM417 610.67h4.2v4.2h-4.2zM418.7 626.7h4.2v4.2h-4.2zM420.4 601.65h4.2v4.2h-4.2zM422.1 560.58h4.2v4.2h-4.2zM423.8 602.66h4.2v4.2h-4.2zM425.5 612.67h4.2v4.2h-4.2zM427.2 622.69h4.2v4.2h-4.2zM428.9 629.71h4.2v4.2h-4.2zM430.6 626.7h4.2v4.2h-4.2zM432.3 621.69h4.2v4.2h-4.2zM434 629.71h4.2v4.2h-4.2zM435.7 639.73h4.2v4.2h-4.2zM437.4 625.7h4.2v4.2h-4.2zM439.1 630.71h4.2v4.2h-4.2zM440.8 631.71h4.2v4.2h-4.2zM442.5 637.72h4.2v4.2h-4.2zM444.2 631.71h4.2v4.2h-4.2zM445.9 605.66h4.2v4.2h-4.2zM447.6 519.5h4.2v4.2h-4.2zM449.3 622.69h4.2v4.2h-4.2zM451 631.71h4.2v4.2h-4.2zM452.7 640.73h4.2v4.2h-4.2zM454.4 645.74h4.2v4.2h-4.2zM456.1 639.73h4.2v4.2h-4.2zM457.8 634.72h4.2v4.2h-4.2zM459.5 631.71h4.2v4.2h-4.2zM461.2 645.74h4.2v4.2h-4.2zM462.9 639.73h4.2v4.2h-4.2zM464.6 632.71h4.2v4.2h-4.2zM466.3 621.69h4.2v4.2h-4.2zM468 638.72h4.2v4.2h-4.2zM469.7 640.73h4.2v4.2h-4.2zM471.4 632.71h4.2v4.2h-4.2zM473.1 632.71h4.2v4.2h-4.2zM474.8 625.7h4.2v4.2h-4.2zM476.5 646.74h4.2v4.2h-4.2zM478.2 631.71h4.2v4.2h-4.2zM479.9 635.72h4.2v4.2h-4.2zM481.6 639.73h4.2v4.2h-4.2zM483.3 624.7h4.2v4.2h-4.2zM485 624.7h4.2v4.2h-4.2zM486.7 620.69h4.2v4.2h-4.2zM488.4 572.6h4.2v4.2h-4.2zM490.1 530.52h4.2v4.2h-4.2zM491.8 573.6h4.2v4.2h-4.2zM493.5 625.7h4.2v4.2h-4.2zM495.2 619.69h4.2v4.2h-4.2zM496.9 610.67h4.2v4.2h-4.2zM498.6 576.61h4.2v4.2h-4.2zM500.3 588.63h4.2v4.2h-4.2zM502 633.71h4.2v4.2h-4.2zM503.7 615.68h4.2v4.2h-4.2zM505.4 622.69h4.2v4.2h-4.2zM507.1 644.73h4.2v4.2h-4.2zM508.8 643.73h4.2v4.2h-4.2zM510.5 639.73h4.2v4.2h-4.2zM512.2 639.73h4.2v4.2h-4.2zM513.9 612.67h4.2v4.2h-4.2zM515.6 580.61h4.2v4.2h-4.2zM517.3 607.66h4.2v4.2h-4.2zM519 599.65h4.2v4.2h-4.2zM520.7 622.69h4.2v4.2h-4.2zM522.4 638.72h4.2v4.2h-4.2zM524.1 633.71h4.2v4.2h-4.2zM525.8 631.71h4.2v4.2h-4.2zM527.5 626.7h4.2v4.2h-4.2zM529.2 619.69h4.2v4.2h-4.2zM530.9 627.7h4.2v4.2h-4.2zM532.6 631.71h4.2v4.2h-4.2zM534.3 639.73h4.2v4.2h-4.2zM536 644.73h4.2v4.2h-4.2zM537.7 635.72h4.2v4.2h-4.2zM539.4 638.72h4.2v4.2h-4.2z" fill="#0072BD"/>
</g>
<g clip-path="url(#lc6)">
<polyline points="325.6,641.83 327.3,635.81 329,637.82 330.7,610.77 332.4,626.8 334.1,599.75 335.8,615.78 337.5,569.69 339.2,626.8 340.9,637.82 342.6,629.8 344.3,609.76 346,624.79 347.7,607.76 349.4,628.8 351.1,593.74 352.8,609.76 354.5,615.78 356.2,562.68 357.9,623.79 359.6,640.82 361.3,655.85 363,620.79 364.7,635.81 366.4,618.78 368.1,590.73 369.8,617.78 371.5,641.83 373.2,610.77 374.9,631.81 376.6,649.84 378.3,610.77 380,628.8 381.7,583.72 383.4,597.74 385.1,625.79 386.8,631.81 388.5,618.78 390.2,627.8 391.9,599.75 393.6,609.76 395.3,624.79 397,627.8 398.7,615.78 400.4,606.76 402.1,634.81 403.8,617.78 405.5,628.8 407.2,623.79 408.9,635.81 410.6,627.8 412.3,599.75 414,596.74 415.7,589.73 417.4,607.76 419.1,612.77 420.8,646.83 422.5,641.83 424.2,537.63 425.9,646.83 427.6,607.76 429.3,620.79 431,627.8 432.7,600.75 434.4,642.83 436.1,635.81 437.8,649.84 439.5,575.7 441.2,626.8 442.9,600.75 444.6,632.81 446.3,641.83 448,595.74 449.7,535.63 451.4,627.8 453.1,624.79 454.8,591.73 456.5,626.8 458.2,596.74 459.9,609.76 461.6,628.8 463.3,595.74 465,655.85 466.7,607.76 468.4,575.7 470.1,606.76 471.8,614.77 473.5,535.63 475.2,611.77 476.9,647.84 478.6,617.78 480.3,527.61 482,641.83 483.7,697.93 485.4,599.75 487.1,628.8 488.8,620.79 490.5,604.76 492.2,555.66 493.9,521.6 495.6,627.8 497.3,572.7 499,623.79 500.7,589.73 502.4,626.8 504.1,528.61 505.8,701.94 507.5,587.72 509.2,626.8 510.9,701.94 512.6,641.83 514.3,624.79 516,613.77 517.7,565.68 519.4,596.74 521.1,590.73 522.8,620.79 524.5,701.94 526.2,701.94 527.9,675.89 529.6,621.79 531.3,621.79 533,701.94 534.7,701.94 536.4,641.83 538.1,619.78 539.8,701.94 541.5,640.82" fill="none" stroke="#D95319" stroke-width="1.5" stroke-linejoin="round"/>
<path d="M323.5 639.73h4.2v4.2h-4.2zM325.2 633.71h4.2v4.2h-4.2zM326.9 635.72h4.2v4.2h-4.2zM328.6 608.67h4.2v4.2h-4.2zM330.3 624.7h4.2v4.2h-4.2zM332 597.65h4.2v4.2h-4.2zM333.7 613.68h4.2v4.2h-4.2zM335.4 567.59h4.2v4.2h-4.2zM337.1 624.7h4.2v4.2h-4.2zM338.8 635.72h4.2v4.2h-4.2zM340.5 627.7h4.2v4.2h-4.2zM342.2 607.66h4.2v4.2h-4.2zM343.9 622.69h4.2v4.2h-4.2zM345.6 605.66h4.2v4.2h-4.2zM347.3 626.7h4.2v4.2h-4.2zM349 591.63h4.2v4.2h-4.2zM350.7 607.66h4.2v4.2h-4.2zM352.4 613.68h4.2v4.2h-4.2zM354.1 560.58h4.2v4.2h-4.2zM355.8 621.69h4.2v4.2h-4.2zM357.5 638.72h4.2v4.2h-4.2zM359.2 653.75h4.2v4.2h-4.2zM360.9 618.69h4.2v4.2h-4.2zM362.6 633.71h4.2v4.2h-4.2zM364.3 616.68h4.2v4.2h-4.2zM366 588.63h4.2v4.2h-4.2zM367.7 615.68h4.2v4.2h-4.2zM369.4 639.73h4.2v4.2h-4.2zM371.1 608.67h4.2v4.2h-4.2zM372.8 629.71h4.2v4.2h-4.2zM374.5 647.74h4.2v4.2h-4.2zM376.2 608.67h4.2v4.2h-4.2zM377.9 626.7h4.2v4.2h-4.2zM379.6 581.62h4.2v4.2h-4.2zM381.3 595.64h4.2v4.2h-4.2zM383 623.69h4.2v4.2h-4.2zM384.7 629.71h4.2v4.2h-4.2zM386.4 616.68h4.2v4.2h-4.2zM388.1 625.7h4.2v4.2h-4.2zM389.8 597.65h4.2v4.2h-4.2zM391.5 607.66h4.2v4.2h-4.2zM393.2 622.69h4.2v4.2h-4.2zM394.9 625.7h4.2v4.2h-4.2zM396.6 613.68h4.2v4.2h-4.2zM398.3 604.66h4.2v4.2h-4.2zM400 632.71h4.2v4.2h-4.2zM401.7 615.68h4.2v4.2h-4.2zM403.4 626.7h4.2v4.2h-4.2zM405.1 621.69h4.2v4.2h-4.2zM406.8 633.71h4.2v4.2h-4.2zM408.5 625.7h4.2v4.2h-4.2zM410.2 597.65h4.2v4.2h-4.2zM411.9 594.64h4.2v4.2h-4.2zM413.6 587.63h4.2v4.2h-4.2zM415.3 605.66h4.2v4.2h-4.2zM417 610.67h4.2v4.2h-4.2zM418.7 644.73h4.2v4.2h-4.2zM420.4 639.73h4.2v4.2h-4.2zM422.1 535.53h4.2v4.2h-4.2zM423.8 644.73h4.2v4.2h-4.2zM425.5 605.66h4.2v4.2h-4.2zM427.2 618.69h4.2v4.2h-4.2zM428.9 625.7h4.2v4.2h-4.2zM430.6 598.65h4.2v4.2h-4.2zM432.3 640.73h4.2v4.2h-4.2zM434 633.71h4.2v4.2h-4.2zM435.7 647.74h4.2v4.2h-4.2zM437.4 573.6h4.2v4.2h-4.2zM439.1 624.7h4.2v4.2h-4.2zM440.8 598.65h4.2v4.2h-4.2zM442.5 630.71h4.2v4.2h-4.2zM444.2 639.73h4.2v4.2h-4.2zM445.9 593.64h4.2v4.2h-4.2zM447.6 533.53h4.2v4.2h-4.2zM449.3 625.7h4.2v4.2h-4.2zM451 622.69h4.2v4.2h-4.2zM452.7 589.63h4.2v4.2h-4.2zM454.4 624.7h4.2v4.2h-4.2zM456.1 594.64h4.2v4.2h-4.2zM457.8 607.66h4.2v4.2h-4.2zM459.5 626.7h4.2v4.2h-4.2zM461.2 593.64h4.2v4.2h-4.2zM462.9 653.75h4.2v4.2h-4.2zM464.6 605.66h4.2v4.2h-4.2zM466.3 573.6h4.2v4.2h-4.2zM468 604.66h4.2v4.2h-4.2zM469.7 612.67h4.2v4.2h-4.2zM471.4 533.53h4.2v4.2h-4.2zM473.1 609.67h4.2v4.2h-4.2zM474.8 645.74h4.2v4.2h-4.2zM476.5 615.68h4.2v4.2h-4.2zM478.2 525.51h4.2v4.2h-4.2zM479.9 639.73h4.2v4.2h-4.2zM483.3 597.65h4.2v4.2h-4.2zM485 626.7h4.2v4.2h-4.2zM486.7 618.69h4.2v4.2h-4.2zM488.4 602.66h4.2v4.2h-4.2zM490.1 553.56h4.2v4.2h-4.2zM491.8 519.5h4.2v4.2h-4.2zM493.5 625.7h4.2v4.2h-4.2zM495.2 570.6h4.2v4.2h-4.2zM496.9 621.69h4.2v4.2h-4.2zM498.6 587.63h4.2v4.2h-4.2zM500.3 624.7h4.2v4.2h-4.2zM502 526.51h4.2v4.2h-4.2zM505.4 585.62h4.2v4.2h-4.2zM507.1 624.7h4.2v4.2h-4.2zM510.5 639.73h4.2v4.2h-4.2zM512.2 622.69h4.2v4.2h-4.2zM513.9 611.67h4.2v4.2h-4.2zM515.6 563.58h4.2v4.2h-4.2zM517.3 594.64h4.2v4.2h-4.2zM519 588.63h4.2v4.2h-4.2zM520.7 618.69h4.2v4.2h-4.2zM525.8 673.79h4.2v4.2h-4.2zM527.5 619.69h4.2v4.2h-4.2zM529.2 619.69h4.2v4.2h-4.2zM534.3 639.73h4.2v4.2h-4.2zM536 617.68h4.2v4.2h-4.2zM539.4 638.72h4.2v4.2h-4.2z" fill="#D95319"/>
</g>
<rect x="331.3" y="526.8" width="72.7" height="25.8" fill="#fff" stroke="#555" stroke-width="0.7"/>
<line x1="333.6" y1="533.7" x2="353.2" y2="533.7" stroke="#0072BD" stroke-width="1.5"/>
<rect x="341.3" y="531.6" width="4.2" height="4.2" fill="#0072BD"/>
<text x="354.9" y="537.1" class="lg">GRFT</text>
<line x1="333.6" y1="545.9" x2="353.2" y2="545.9" stroke="#D95319" stroke-width="1.5"/>
<rect x="341.3" y="543.8" width="4.2" height="4.2" fill="#D95319"/>
<text x="354.9" y="549.3" class="lg">AFS-GRFT</text>
<text x="357.9" y="696.9" text-anchor="middle" class="tk">20</text>
<text x="391.9" y="696.9" text-anchor="middle" class="tk">40</text>
<text x="425.9" y="696.9" text-anchor="middle" class="tk">60</text>
<text x="459.9" y="696.9" text-anchor="middle" class="tk">80</text>
<text x="493.9" y="696.9" text-anchor="middle" class="tk">100</text>
<text x="527.9" y="696.9" text-anchor="middle" class="tk">120</text>
<text x="321.8" y="526.4" text-anchor="end" class="tk">0</text>
<text x="321.8" y="566.47" text-anchor="end" class="tk">-2</text>
<text x="321.8" y="606.55" text-anchor="end" class="tk">-4</text>
<text x="321.8" y="646.62" text-anchor="end" class="tk">-6</text>
<text x="321.8" y="686.7" text-anchor="end" class="tk">-8</text>
<text x="433.55" y="712.4" text-anchor="middle" class="lb">Candidate trajectory number</text>
<text transform="translate(307.5,601.75) rotate(-90)" text-anchor="middle" class="lb yl">Normalized amplitude (dB)</text>
<text x="423.9" y="736.6" text-anchor="middle" class="cap"><tspan class="pr">(</tspan>f<tspan class="pr">)</tspan></text>
</svg></body></html>
